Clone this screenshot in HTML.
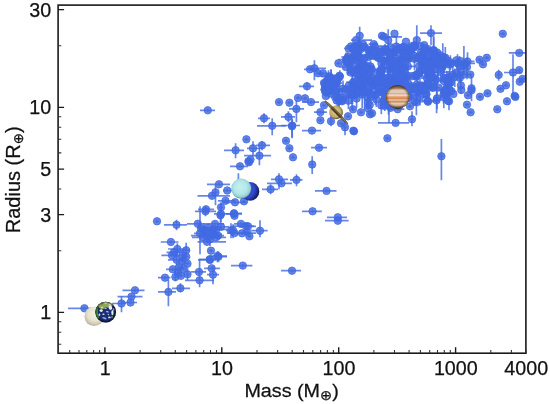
<!DOCTYPE html>
<html><head><meta charset="utf-8"><title>Mass-Radius</title>
<style>html,body{margin:0;padding:0;background:#fff}body{width:550px;height:404px;overflow:hidden}svg{display:block}</style>
</head><body>
<svg width="550" height="404" viewBox="0 0 550 404">
<defs>
<radialGradient id="gV" cx="0.55" cy="0.38" r="0.68"><stop offset="0" stop-color="#f4f2e8"/><stop offset="0.55" stop-color="#e6e2cd"/><stop offset="0.85" stop-color="#c4c0aa"/><stop offset="1" stop-color="#8f8d80"/></radialGradient>
<radialGradient id="gE" cx="0.5" cy="0.5" r="0.5"><stop offset="0" stop-color="#1d2f7e"/><stop offset="0.8" stop-color="#182a6c"/><stop offset="1" stop-color="#0b1436"/></radialGradient>
<radialGradient id="gU" cx="0.5" cy="0.46" r="0.56" fx="0.4" fy="0.4"><stop offset="0" stop-color="#c6f1ef"/><stop offset="0.6" stop-color="#b2e6e8"/><stop offset="0.86" stop-color="#93cdd4"/><stop offset="0.95" stop-color="#5d8a93"/><stop offset="1" stop-color="#1c2a30"/></radialGradient>
<radialGradient id="gN" cx="0.3" cy="0.4" r="0.75"><stop offset="0" stop-color="#3f5fe0"/><stop offset="0.6" stop-color="#2f46c8"/><stop offset="0.85" stop-color="#1a2480"/><stop offset="1" stop-color="#05071c"/></radialGradient>
<radialGradient id="gS" cx="0.45" cy="0.45" r="0.55"><stop offset="0" stop-color="#dcc88a"/><stop offset="0.7" stop-color="#c4ad6e"/><stop offset="1" stop-color="#6e5c32"/></radialGradient>
<linearGradient id="gJ" x1="0" y1="0" x2="0" y2="1">
<stop offset="0" stop-color="#8a6448"/><stop offset="0.13" stop-color="#a87c5c"/><stop offset="0.2" stop-color="#dcc6b4"/><stop offset="0.3" stop-color="#e3cdbd"/><stop offset="0.36" stop-color="#dba888"/><stop offset="0.42" stop-color="#efe4da"/><stop offset="0.5" stop-color="#e39a60"/><stop offset="0.57" stop-color="#dc8c52"/><stop offset="0.63" stop-color="#ecc9a8"/><stop offset="0.7" stop-color="#c98a60"/><stop offset="0.78" stop-color="#e4cdb6"/><stop offset="0.87" stop-color="#c9a88c"/><stop offset="0.93" stop-color="#9a7154"/><stop offset="1" stop-color="#6a4a34"/></linearGradient>
<radialGradient id="gJs" cx="0.5" cy="0.5" r="0.5"><stop offset="0" stop-color="#000" stop-opacity="0"/><stop offset="0.75" stop-color="#000" stop-opacity="0"/><stop offset="0.93" stop-color="#201008" stop-opacity="0.35"/><stop offset="1" stop-color="#100804" stop-opacity="0.75"/></radialGradient>
<radialGradient id="gEs" cx="0.5" cy="0.5" r="0.5"><stop offset="0" stop-color="#000" stop-opacity="0"/><stop offset="0.82" stop-color="#000" stop-opacity="0"/><stop offset="1" stop-color="#05081a" stop-opacity="0.55"/></radialGradient>
<filter id="soft" x="-10%" y="-10%" width="120%" height="120%"><feGaussianBlur stdDeviation="0.35"/></filter>
<clipPath id="clipAx"><rect x="58.5" y="5" width="467.5" height="348"/></clipPath>
<clipPath id="clipE"><circle cx="105.7" cy="312.1" r="10.4"/></clipPath>
</defs>
<rect width="550" height="404" fill="#fff"/>
<g clip-path="url(#clipAx)">
<path d="M68 308.3H98M84.4 306.5V310.1" stroke="#4169e1" stroke-opacity=".8" stroke-width="1.7" fill="none"/>
<path d="M112 303.5H126M121.5 296.3V312.3" stroke="#4169e1" stroke-opacity=".8" stroke-width="1.7" fill="none"/>
<path d="M122 302.5H137M130.5 300.7V304.3" stroke="#4169e1" stroke-opacity=".8" stroke-width="1.7" fill="none"/>
<path d="M117.5 296.6H142.5M131.5 294.8V298.4" stroke="#4169e1" stroke-opacity=".8" stroke-width="1.7" fill="none"/>
<path d="M122.5 290.3H144.5M135 288.5V292.1" stroke="#4169e1" stroke-opacity=".8" stroke-width="1.7" fill="none"/>
<path d="M158 291.9H176M168.4 279.3V306.3" stroke="#4169e1" stroke-opacity=".8" stroke-width="1.7" fill="none"/>
<path d="M172 288.3H190M180.4 283.3V292.3" stroke="#4169e1" stroke-opacity=".8" stroke-width="1.7" fill="none"/>
<path d="M191 271.9H206M199 270.1V273.7" stroke="#4169e1" stroke-opacity=".8" stroke-width="1.7" fill="none"/>
<path d="M185 280.3H214M199.6 259.3V287.3" stroke="#4169e1" stroke-opacity=".8" stroke-width="1.7" fill="none"/>
<path d="M198 259.9H216M210 258.1V261.7" stroke="#4169e1" stroke-opacity=".8" stroke-width="1.7" fill="none"/>
<path d="M208.8 250.7H213.2M211 248.9V252.5" stroke="#4169e1" stroke-opacity=".8" stroke-width="1.7" fill="none"/>
<path d="M210 256.7H227M218.5 251.3V262.3" stroke="#4169e1" stroke-opacity=".8" stroke-width="1.7" fill="none"/>
<path d="M204 268.3H220M211.6 266.5V270.1" stroke="#4169e1" stroke-opacity=".8" stroke-width="1.7" fill="none"/>
<path d="M207 274.7H219M213 266.3V284.3" stroke="#4169e1" stroke-opacity=".8" stroke-width="1.7" fill="none"/>
<path d="M231 265.6H252.4M242.8 263.8V267.4" stroke="#4169e1" stroke-opacity=".8" stroke-width="1.7" fill="none"/>
<path d="M281 270.7H301M292 268.9V272.5" stroke="#4169e1" stroke-opacity=".8" stroke-width="1.7" fill="none"/>
<path d="M154.8 221.3H159.2M157 219.5V223.1" stroke="#4169e1" stroke-opacity=".8" stroke-width="1.7" fill="none"/>
<path d="M164 224.8H187M176.5 219.8V230.3" stroke="#4169e1" stroke-opacity=".8" stroke-width="1.7" fill="none"/>
<path d="M195 211.3H216M205.5 206.3V216.3" stroke="#4169e1" stroke-opacity=".8" stroke-width="1.7" fill="none"/>
<path d="M194 233.3H206M200 206.3V254.3" stroke="#4169e1" stroke-opacity=".8" stroke-width="1.7" fill="none"/>
<path d="M187 223.8H208.5M197.8 222V225.6" stroke="#4169e1" stroke-opacity=".8" stroke-width="1.7" fill="none"/>
<path d="M214 213.9H230M221 202.3V222.3" stroke="#4169e1" stroke-opacity=".8" stroke-width="1.7" fill="none"/>
<path d="M226 213.9H242M234 212.1V215.7" stroke="#4169e1" stroke-opacity=".8" stroke-width="1.7" fill="none"/>
<path d="M208 223.9H224M215 222.1V225.7" stroke="#4169e1" stroke-opacity=".8" stroke-width="1.7" fill="none"/>
<path d="M213.8 230.3H218.2M216 228.5V232.1" stroke="#4169e1" stroke-opacity=".8" stroke-width="1.7" fill="none"/>
<path d="M203.8 233.3H208.2M206 231.5V235.1" stroke="#4169e1" stroke-opacity=".8" stroke-width="1.7" fill="none"/>
<path d="M192 237.3H212M203 235.5V239.1" stroke="#4169e1" stroke-opacity=".8" stroke-width="1.7" fill="none"/>
<path d="M207.8 239.3H212.2M210 232.3V246.3" stroke="#4169e1" stroke-opacity=".8" stroke-width="1.7" fill="none"/>
<path d="M208 237.3H226M216 235.5V239.1" stroke="#4169e1" stroke-opacity=".8" stroke-width="1.7" fill="none"/>
<path d="M226 230.3H236M231 223.3V238.3" stroke="#4169e1" stroke-opacity=".8" stroke-width="1.7" fill="none"/>
<path d="M234 223.9H248M241 222.1V225.7" stroke="#4169e1" stroke-opacity=".8" stroke-width="1.7" fill="none"/>
<path d="M236 233.3H250M242 231.5V235.1" stroke="#4169e1" stroke-opacity=".8" stroke-width="1.7" fill="none"/>
<path d="M242 226.3H256M248 224.5V228.1" stroke="#4169e1" stroke-opacity=".8" stroke-width="1.7" fill="none"/>
<path d="M247.2 236.3H251.6M249.4 234.5V238.1" stroke="#4169e1" stroke-opacity=".8" stroke-width="1.7" fill="none"/>
<path d="M251 230.7H267.6M260 220.3V237.3" stroke="#4169e1" stroke-opacity=".8" stroke-width="1.7" fill="none"/>
<path d="M230.8 230.3H235.2M233 224.3V238.3" stroke="#4169e1" stroke-opacity=".8" stroke-width="1.7" fill="none"/>
<path d="M218 200.8H235M225.5 199V202.6" stroke="#4169e1" stroke-opacity=".8" stroke-width="1.7" fill="none"/>
<path d="M223 202.3H247M235 200.5V204.1" stroke="#4169e1" stroke-opacity=".8" stroke-width="1.7" fill="none"/>
<path d="M241.8 201.3H246.2M244 199.5V203.1" stroke="#4169e1" stroke-opacity=".8" stroke-width="1.7" fill="none"/>
<path d="M230 213.3H242M234 211.5V215.1" stroke="#4169e1" stroke-opacity=".8" stroke-width="1.7" fill="none"/>
<path d="M207 184.3H230M219 182.5V186.1" stroke="#4169e1" stroke-opacity=".8" stroke-width="1.7" fill="none"/>
<path d="M223 190.5H233M227.2 188.7V192.3" stroke="#4169e1" stroke-opacity=".8" stroke-width="1.7" fill="none"/>
<path d="M197.5 195.8H230M212 194V197.6" stroke="#4169e1" stroke-opacity=".8" stroke-width="1.7" fill="none"/>
<path d="M213.3 192.3H217.7M215.5 185.3V205.3" stroke="#4169e1" stroke-opacity=".8" stroke-width="1.7" fill="none"/>
<path d="M198 209.3H214M206 207.5V211.1" stroke="#4169e1" stroke-opacity=".8" stroke-width="1.7" fill="none"/>
<path d="M218.8 207.3H223.2M221 203.3V214.3" stroke="#4169e1" stroke-opacity=".8" stroke-width="1.7" fill="none"/>
<path d="M236.2 186.3H240.6M238.4 173.3V196.3" stroke="#4169e1" stroke-opacity=".8" stroke-width="1.7" fill="none"/>
<path d="M244.2 139.3H248.6M246.4 137.5V141.1" stroke="#4169e1" stroke-opacity=".8" stroke-width="1.7" fill="none"/>
<path d="M224 150.3H244M235.6 143.3V158.3" stroke="#4169e1" stroke-opacity=".8" stroke-width="1.7" fill="none"/>
<path d="M247 148.3H260M253 141.3V156.3" stroke="#4169e1" stroke-opacity=".8" stroke-width="1.7" fill="none"/>
<path d="M256 145.3H270M262 141.3V150.3" stroke="#4169e1" stroke-opacity=".8" stroke-width="1.7" fill="none"/>
<path d="M244 155.7H271M259.4 148.3V165.3" stroke="#4169e1" stroke-opacity=".8" stroke-width="1.7" fill="none"/>
<path d="M246.2 161.3H250.6M248.4 159.5V163.1" stroke="#4169e1" stroke-opacity=".8" stroke-width="1.7" fill="none"/>
<path d="M248.3 159.6H252.7M250.5 157.8V161.4" stroke="#4169e1" stroke-opacity=".8" stroke-width="1.7" fill="none"/>
<path d="M230 166.3H248M240 164.5V168.1" stroke="#4169e1" stroke-opacity=".8" stroke-width="1.7" fill="none"/>
<path d="M246.8 162.3H251.2M249 160.5V164.1" stroke="#4169e1" stroke-opacity=".8" stroke-width="1.7" fill="none"/>
<path d="M283.8 140.8H288.2M286 139V142.6" stroke="#4169e1" stroke-opacity=".8" stroke-width="1.7" fill="none"/>
<path d="M289.8 126.3H294.2M292 118.3V138.3" stroke="#4169e1" stroke-opacity=".8" stroke-width="1.7" fill="none"/>
<path d="M287.2 148.3H291.6M289.4 146.5V150.1" stroke="#4169e1" stroke-opacity=".8" stroke-width="1.7" fill="none"/>
<path d="M290.8 157.3H295.2M293 155.5V159.1" stroke="#4169e1" stroke-opacity=".8" stroke-width="1.7" fill="none"/>
<path d="M271 179.3H288M279 173.3V189.3" stroke="#4169e1" stroke-opacity=".8" stroke-width="1.7" fill="none"/>
<path d="M267 183.3H292M281.5 181.5V185.1" stroke="#4169e1" stroke-opacity=".8" stroke-width="1.7" fill="none"/>
<path d="M262 189.3H278M270.6 184.3V194.3" stroke="#4169e1" stroke-opacity=".8" stroke-width="1.7" fill="none"/>
<path d="M290 179.9H302.5M296.5 174.3V186.3" stroke="#4169e1" stroke-opacity=".8" stroke-width="1.7" fill="none"/>
<path d="M310 164.5H314.4M312.2 156.3V173.9" stroke="#4169e1" stroke-opacity=".8" stroke-width="1.7" fill="none"/>
<path d="M315 190.9H336.5M326.5 189.1V192.7" stroke="#4169e1" stroke-opacity=".8" stroke-width="1.7" fill="none"/>
<path d="M302 211.3H321.8M312.6 209.5V213.1" stroke="#4169e1" stroke-opacity=".8" stroke-width="1.7" fill="none"/>
<path d="M327 217.3H347M337.8 215.5V219.1" stroke="#4169e1" stroke-opacity=".8" stroke-width="1.7" fill="none"/>
<path d="M325 220.7H348.6M337.8 218.9V222.5" stroke="#4169e1" stroke-opacity=".8" stroke-width="1.7" fill="none"/>
<path d="M200 110.3H215M207.8 108.5V112.1" stroke="#4169e1" stroke-opacity=".8" stroke-width="1.7" fill="none"/>
<path d="M276.8 102.1H281.2M279 100.3V103.9" stroke="#4169e1" stroke-opacity=".8" stroke-width="1.7" fill="none"/>
<path d="M287.2 102.7H291.6M289.4 100.9V104.5" stroke="#4169e1" stroke-opacity=".8" stroke-width="1.7" fill="none"/>
<path d="M295.8 97.9H300.2M298 96.1V99.7" stroke="#4169e1" stroke-opacity=".8" stroke-width="1.7" fill="none"/>
<path d="M302.8 98.3H307.2M305 96.5V100.1" stroke="#4169e1" stroke-opacity=".8" stroke-width="1.7" fill="none"/>
<path d="M302 102.1H319M311 100.3V103.9" stroke="#4169e1" stroke-opacity=".8" stroke-width="1.7" fill="none"/>
<path d="M289 108.9H304M296.4 100.3V122.3" stroke="#4169e1" stroke-opacity=".8" stroke-width="1.7" fill="none"/>
<path d="M258 118.3H270M264 113.3V123.3" stroke="#4169e1" stroke-opacity=".8" stroke-width="1.7" fill="none"/>
<path d="M281 116.9H295M288.4 111.3V122.3" stroke="#4169e1" stroke-opacity=".8" stroke-width="1.7" fill="none"/>
<path d="M257 125.8H286M272.2 118.3V135.3" stroke="#4169e1" stroke-opacity=".8" stroke-width="1.7" fill="none"/>
<path d="M281 125.5H300M292.2 119.3V137.3" stroke="#4169e1" stroke-opacity=".8" stroke-width="1.7" fill="none"/>
<path d="M302 130.6H321M312 128.8V132.4" stroke="#4169e1" stroke-opacity=".8" stroke-width="1.7" fill="none"/>
<path d="M311 147.7H327M319 145.9V149.5" stroke="#4169e1" stroke-opacity=".8" stroke-width="1.7" fill="none"/>
<path d="M299 86.3H314M307 82.3V90.3" stroke="#4169e1" stroke-opacity=".8" stroke-width="1.7" fill="none"/>
<path d="M304 69.3H319M310 67.5V71.1" stroke="#4169e1" stroke-opacity=".8" stroke-width="1.7" fill="none"/>
<path d="M308 68.3H326M314.4 60.3V80.3" stroke="#4169e1" stroke-opacity=".8" stroke-width="1.7" fill="none"/>
<path d="M315.8 73.3H320.2M318 71.5V75.1" stroke="#4169e1" stroke-opacity=".8" stroke-width="1.7" fill="none"/>
<path d="M314 112.1H327M320.4 110.3V113.9" stroke="#4169e1" stroke-opacity=".8" stroke-width="1.7" fill="none"/>
<path d="M318.2 120.3H322.6M320.4 118.5V122.1" stroke="#4169e1" stroke-opacity=".8" stroke-width="1.7" fill="none"/>
<path d="M321.8 105.3H326.2M324 103.5V107.1" stroke="#4169e1" stroke-opacity=".8" stroke-width="1.7" fill="none"/>
<path d="M328.8 121.3H333.2M331 112.3V126.3" stroke="#4169e1" stroke-opacity=".8" stroke-width="1.7" fill="none"/>
<path d="M338.8 123.3H343.2M341 121.5V125.1" stroke="#4169e1" stroke-opacity=".8" stroke-width="1.7" fill="none"/>
<path d="M342.8 127.3H347.2M345 120.3V135.3" stroke="#4169e1" stroke-opacity=".8" stroke-width="1.7" fill="none"/>
<path d="M350.5 131.3H357.5M354 127.8V134.8" stroke="#4169e1" stroke-opacity=".8" stroke-width="1.7" fill="none"/>
<path d="M345.8 116.3H350.2M348 114.5V118.1" stroke="#4169e1" stroke-opacity=".8" stroke-width="1.7" fill="none"/>
<path d="M350.8 109.3H355.2M353 107.5V111.1" stroke="#4169e1" stroke-opacity=".8" stroke-width="1.7" fill="none"/>
<path d="M339.8 101.3H344.2M342 99.5V103.1" stroke="#4169e1" stroke-opacity=".8" stroke-width="1.7" fill="none"/>
<path d="M358.8 112.3H363.2M361 110.5V114.1" stroke="#4169e1" stroke-opacity=".8" stroke-width="1.7" fill="none"/>
<path d="M365.8 108.3H370.2M368 106.5V110.1" stroke="#4169e1" stroke-opacity=".8" stroke-width="1.7" fill="none"/>
<path d="M367.8 114.3H372.2M370 112.5V116.1" stroke="#4169e1" stroke-opacity=".8" stroke-width="1.7" fill="none"/>
<path d="M336.2 63.3H340.6M338.4 61.5V65.1" stroke="#4169e1" stroke-opacity=".8" stroke-width="1.7" fill="none"/>
<path d="M318 73.3H329M323 71.5V75.1" stroke="#4169e1" stroke-opacity=".8" stroke-width="1.7" fill="none"/>
<path d="M328.8 78.3H333.2M331 69.3V92.3" stroke="#4169e1" stroke-opacity=".8" stroke-width="1.7" fill="none"/>
<path d="M500.6 33.8H505M502.8 32V35.6" stroke="#4169e1" stroke-opacity=".8" stroke-width="1.7" fill="none"/>
<path d="M508.8 52.9H525.5M519.2 51.1V54.7" stroke="#4169e1" stroke-opacity=".8" stroke-width="1.7" fill="none"/>
<path d="M484.6 57.8H489M486.8 56V59.6" stroke="#4169e1" stroke-opacity=".8" stroke-width="1.7" fill="none"/>
<path d="M477.3 59.7H481.7M479.5 57.9V61.5" stroke="#4169e1" stroke-opacity=".8" stroke-width="1.7" fill="none"/>
<path d="M480.8 64.3H485.2M483 62.5V66.1" stroke="#4169e1" stroke-opacity=".8" stroke-width="1.7" fill="none"/>
<path d="M496.5 74.9H500.9M498.7 69.8V80.7" stroke="#4169e1" stroke-opacity=".8" stroke-width="1.7" fill="none"/>
<path d="M504 72.5H522M513 54.3V97.3" stroke="#4169e1" stroke-opacity=".8" stroke-width="1.7" fill="none"/>
<path d="M517 70.1H521.4M519.2 68.3V71.9" stroke="#4169e1" stroke-opacity=".8" stroke-width="1.7" fill="none"/>
<path d="M520.3 78.9H524.7M522.5 77.1V80.7" stroke="#4169e1" stroke-opacity=".8" stroke-width="1.7" fill="none"/>
<path d="M517.5 81.7H521.9M519.7 79.9V83.5" stroke="#4169e1" stroke-opacity=".8" stroke-width="1.7" fill="none"/>
<path d="M503.8 85.3H508.2M506 83.5V87.1" stroke="#4169e1" stroke-opacity=".8" stroke-width="1.7" fill="none"/>
<path d="M498.3 88.8H502.7M500.5 87V90.6" stroke="#4169e1" stroke-opacity=".8" stroke-width="1.7" fill="none"/>
<path d="M485.3 93.3H489.7M487.5 91.5V95.1" stroke="#4169e1" stroke-opacity=".8" stroke-width="1.7" fill="none"/>
<path d="M512.4 95.9H516.8M514.6 94.1V97.7" stroke="#4169e1" stroke-opacity=".8" stroke-width="1.7" fill="none"/>
<path d="M513.2 96.9H517.6M515.4 95.1V98.7" stroke="#4169e1" stroke-opacity=".8" stroke-width="1.7" fill="none"/>
<path d="M504.8 101.3H509.2M507 99.5V103.1" stroke="#4169e1" stroke-opacity=".8" stroke-width="1.7" fill="none"/>
<path d="M495.1 109.3H499.5M497.3 107.5V111.1" stroke="#4169e1" stroke-opacity=".8" stroke-width="1.7" fill="none"/>
<path d="M477.8 96.8H482.2M480 95V98.6" stroke="#4169e1" stroke-opacity=".8" stroke-width="1.7" fill="none"/>
<path d="M468.1 74.6H472.5M470.3 72.8V76.4" stroke="#4169e1" stroke-opacity=".8" stroke-width="1.7" fill="none"/>
<path d="M469.3 88.3H473.7M471.5 86.5V90.1" stroke="#4169e1" stroke-opacity=".8" stroke-width="1.7" fill="none"/>
<path d="M465.3 61.5H469.7M467.5 52.3V71.3" stroke="#4169e1" stroke-opacity=".8" stroke-width="1.7" fill="none"/>
<path d="M461.7 65.3H466.1M463.9 45.9V75.3" stroke="#4169e1" stroke-opacity=".8" stroke-width="1.7" fill="none"/>
<path d="M450 63.3H475M457.5 54.3V72.3" stroke="#4169e1" stroke-opacity=".8" stroke-width="1.7" fill="none"/>
<path d="M440.6 60.3H445M442.8 43.3V78.3" stroke="#4169e1" stroke-opacity=".8" stroke-width="1.7" fill="none"/>
<path d="M431.5 50.3H435.9M433.7 36.3V70.3" stroke="#4169e1" stroke-opacity=".8" stroke-width="1.7" fill="none"/>
<path d="M420 33.1H442M431 25.3V45.3" stroke="#4169e1" stroke-opacity=".8" stroke-width="1.7" fill="none"/>
<path d="M465.8 95.3H470.2M468 93.5V97.1" stroke="#4169e1" stroke-opacity=".8" stroke-width="1.7" fill="none"/>
<path d="M464.8 104.7H469.2M467 102.9V106.5" stroke="#4169e1" stroke-opacity=".8" stroke-width="1.7" fill="none"/>
<path d="M468.4 112.3H472.8M470.6 110.5V114.1" stroke="#4169e1" stroke-opacity=".8" stroke-width="1.7" fill="none"/>
<path d="M446.8 101.3H451.2M449 92.3V110.3" stroke="#4169e1" stroke-opacity=".8" stroke-width="1.7" fill="none"/>
<path d="M434.4 100.3H438.8M436.6 88.3V113.3" stroke="#4169e1" stroke-opacity=".8" stroke-width="1.7" fill="none"/>
<path d="M419 101.7H434M428 99.9V103.5" stroke="#4169e1" stroke-opacity=".8" stroke-width="1.7" fill="none"/>
<path d="M414.2 102.3H418.6M416.4 90.3V115.3" stroke="#4169e1" stroke-opacity=".8" stroke-width="1.7" fill="none"/>
<path d="M407.8 106.3H412.2M410 104.5V108.1" stroke="#4169e1" stroke-opacity=".8" stroke-width="1.7" fill="none"/>
<path d="M409.8 119.3H414.2M412 111.3V126.3" stroke="#4169e1" stroke-opacity=".8" stroke-width="1.7" fill="none"/>
<path d="M378 122.9H409M395.6 121.1V124.7" stroke="#4169e1" stroke-opacity=".8" stroke-width="1.7" fill="none"/>
<path d="M386.8 106.3H391.2M389 98.3V122.9" stroke="#4169e1" stroke-opacity=".8" stroke-width="1.7" fill="none"/>
<path d="M385.2 138.3H389.6M387.4 136.5V140.1" stroke="#4169e1" stroke-opacity=".8" stroke-width="1.7" fill="none"/>
<path d="M439.2 156.3H443.6M441.4 138.9V180.3" stroke="#4169e1" stroke-opacity=".8" stroke-width="1.7" fill="none"/>
<path d="M369.8 113.3H374.2M372 111.5V115.1" stroke="#4169e1" stroke-opacity=".8" stroke-width="1.7" fill="none"/>
<path d="M351.2 130.7H355.6M353.4 128.9V132.5" stroke="#4169e1" stroke-opacity=".8" stroke-width="1.7" fill="none"/>
<path d="M199 229.3H227M213 227.5V231.1" stroke="#4169e1" stroke-opacity=".8" stroke-width="1.7" fill="none"/>
<path d="M206 234.3H222M213 228.3V240.3" stroke="#4169e1" stroke-opacity=".8" stroke-width="1.7" fill="none"/>
<path d="M191 235.7H224M218 233.9V237.5" stroke="#4169e1" stroke-opacity=".8" stroke-width="1.7" fill="none"/>
<path d="M197.6 227.8H222M208 226V229.6" stroke="#4169e1" stroke-opacity=".8" stroke-width="1.7" fill="none"/>
<path d="M201.8 229.8H206.2M204 223.3V236.3" stroke="#4169e1" stroke-opacity=".8" stroke-width="1.7" fill="none"/>
<path d="M212 226.8H229M221 225V228.6" stroke="#4169e1" stroke-opacity=".8" stroke-width="1.7" fill="none"/>
<path d="M197.6 241.8H226M207 240V243.6" stroke="#4169e1" stroke-opacity=".8" stroke-width="1.7" fill="none"/>
<path d="M198.8 228.3H203.2M201 226.5V230.1" stroke="#4169e1" stroke-opacity=".8" stroke-width="1.7" fill="none"/>
<path d="M208.8 233.3H213.2M211 231.5V235.1" stroke="#4169e1" stroke-opacity=".8" stroke-width="1.7" fill="none"/>
<path d="M227 233.1H256M234.5 231.3V234.9" stroke="#4169e1" stroke-opacity=".8" stroke-width="1.7" fill="none"/>
<path d="M232.6 226.1H254M246 224.3V227.9" stroke="#4169e1" stroke-opacity=".8" stroke-width="1.7" fill="none"/>
<path d="M244.8 231.8H249.2M247 230V233.6" stroke="#4169e1" stroke-opacity=".8" stroke-width="1.7" fill="none"/>
<path d="M218.3 215.3H222.7M220.5 209.3V222.9" stroke="#4169e1" stroke-opacity=".8" stroke-width="1.7" fill="none"/>
<path d="M232.3 215.8H236.7M234.5 214V217.6" stroke="#4169e1" stroke-opacity=".8" stroke-width="1.7" fill="none"/>
<path d="M209 256H227M217.4 251.3V262.3" stroke="#4169e1" stroke-opacity=".8" stroke-width="1.7" fill="none"/>
<path d="M199 259.3H216M209.7 257.5V261.1" stroke="#4169e1" stroke-opacity=".8" stroke-width="1.7" fill="none"/>
<path d="M160.7 242H178.5M170.9 240.2V243.8" stroke="#4169e1" stroke-opacity=".8" stroke-width="1.7" fill="none"/>
<path d="M168 249H186M177.3 243.3V255.3" stroke="#4169e1" stroke-opacity=".8" stroke-width="1.7" fill="none"/>
<path d="M178 250.3H190M186.2 242.7V259.3" stroke="#4169e1" stroke-opacity=".8" stroke-width="1.7" fill="none"/>
<path d="M166.5 252.3H182M174 250.5V254.1" stroke="#4169e1" stroke-opacity=".8" stroke-width="1.7" fill="none"/>
<path d="M161.4 255.3H180M172 253.5V257.1" stroke="#4169e1" stroke-opacity=".8" stroke-width="1.7" fill="none"/>
<path d="M180.2 255.3H184.6M182.4 249.3V262.3" stroke="#4169e1" stroke-opacity=".8" stroke-width="1.7" fill="none"/>
<path d="M184 256.7H188.4M186.2 254.9V258.5" stroke="#4169e1" stroke-opacity=".8" stroke-width="1.7" fill="none"/>
<path d="M168 259.8H184M176.6 253.3V266.3" stroke="#4169e1" stroke-opacity=".8" stroke-width="1.7" fill="none"/>
<path d="M180.2 261.1H184.6M182.4 255.3V268.3" stroke="#4169e1" stroke-opacity=".8" stroke-width="1.7" fill="none"/>
<path d="M185.3 263.7H189.7M187.5 261.9V265.5" stroke="#4169e1" stroke-opacity=".8" stroke-width="1.7" fill="none"/>
<path d="M166 269.3H180M172.8 267.5V271.1" stroke="#4169e1" stroke-opacity=".8" stroke-width="1.7" fill="none"/>
<path d="M176.8 267.3H181.2M179 261.3V274.3" stroke="#4169e1" stroke-opacity=".8" stroke-width="1.7" fill="none"/>
<path d="M181.4 268.8H185.8M183.6 267V270.6" stroke="#4169e1" stroke-opacity=".8" stroke-width="1.7" fill="none"/>
<path d="M173.2 277H177.6M175.4 270.3V281.3" stroke="#4169e1" stroke-opacity=".8" stroke-width="1.7" fill="none"/>
<path d="M178.8 275.8H183.2M181 274V277.6" stroke="#4169e1" stroke-opacity=".8" stroke-width="1.7" fill="none"/>
<path d="M185.3 274.3H189.7M187.5 268.3V280.3" stroke="#4169e1" stroke-opacity=".8" stroke-width="1.7" fill="none"/>
<path d="M158 277.7H170.5M165 275.9V279.5" stroke="#4169e1" stroke-opacity=".8" stroke-width="1.7" fill="none"/>
<path d="M175.8 272.8H180.2M178 271V274.6" stroke="#4169e1" stroke-opacity=".8" stroke-width="1.7" fill="none"/>
<path d="M352.5 74.8V104.2" stroke="#4169e1" stroke-opacity=".8" stroke-width="1.7" fill="none"/>
<path d="M367.4 89.3V106.2" stroke="#4169e1" stroke-opacity=".8" stroke-width="1.7" fill="none"/>
<path d="M379.4 94.8H393.5M386.1 86V104.4" stroke="#4169e1" stroke-opacity=".8" stroke-width="1.7" fill="none"/>
<path d="M365 60.6V74.7" stroke="#4169e1" stroke-opacity=".8" stroke-width="1.7" fill="none"/>
<path d="M359.1 61V76.4" stroke="#4169e1" stroke-opacity=".8" stroke-width="1.7" fill="none"/>
<path d="M341.2 57H353.9" stroke="#4169e1" stroke-opacity=".8" stroke-width="1.7" fill="none"/>
<path d="M401.4 74.4V97.1" stroke="#4169e1" stroke-opacity=".8" stroke-width="1.7" fill="none"/>
<path d="M374.6 69H388.5M382 64.1V73.4" stroke="#4169e1" stroke-opacity=".8" stroke-width="1.7" fill="none"/>
<path d="M368.5 44.1H377.9" stroke="#4169e1" stroke-opacity=".8" stroke-width="1.7" fill="none"/>
<path d="M390.4 46.5H401.7M396.4 36.6V54.5" stroke="#4169e1" stroke-opacity=".8" stroke-width="1.7" fill="none"/>
<path d="M403.5 42.9V61.1" stroke="#4169e1" stroke-opacity=".8" stroke-width="1.7" fill="none"/>
<path d="M430 49.6V69.2" stroke="#4169e1" stroke-opacity=".8" stroke-width="1.7" fill="none"/>
<path d="M434.9 64H452.4" stroke="#4169e1" stroke-opacity=".8" stroke-width="1.7" fill="none"/>
<path d="M349.4 56.6H361.1" stroke="#4169e1" stroke-opacity=".8" stroke-width="1.7" fill="none"/>
<path d="M452.8 66V85.9" stroke="#4169e1" stroke-opacity=".8" stroke-width="1.7" fill="none"/>
<path d="M443.6 84.7V103.6" stroke="#4169e1" stroke-opacity=".8" stroke-width="1.7" fill="none"/>
<path d="M429.3 52.5H440.3" stroke="#4169e1" stroke-opacity=".8" stroke-width="1.7" fill="none"/>
<path d="M382.9 103.1H394.4M388.5 90.6V114.6" stroke="#4169e1" stroke-opacity=".8" stroke-width="1.7" fill="none"/>
<path d="M397.5 78H411.3M404 73.5V82" stroke="#4169e1" stroke-opacity=".8" stroke-width="1.7" fill="none"/>
<path d="M394.8 78.4V107.7" stroke="#4169e1" stroke-opacity=".8" stroke-width="1.7" fill="none"/>
<path d="M400.6 58.2H416.7" stroke="#4169e1" stroke-opacity=".8" stroke-width="1.7" fill="none"/>
<path d="M424.7 87.8H440.7" stroke="#4169e1" stroke-opacity=".8" stroke-width="1.7" fill="none"/>
<path d="M388.2 70.9V85.1" stroke="#4169e1" stroke-opacity=".8" stroke-width="1.7" fill="none"/>
<path d="M372.4 74.3V98.2" stroke="#4169e1" stroke-opacity=".8" stroke-width="1.7" fill="none"/>
<path d="M436.7 59.8H450.3" stroke="#4169e1" stroke-opacity=".8" stroke-width="1.7" fill="none"/>
<path d="M320.4 89.9H338.9" stroke="#4169e1" stroke-opacity=".8" stroke-width="1.7" fill="none"/>
<path d="M398 57.5H408.1M403.3 51.7V63" stroke="#4169e1" stroke-opacity=".8" stroke-width="1.7" fill="none"/>
<path d="M440 54.4V66.6" stroke="#4169e1" stroke-opacity=".8" stroke-width="1.7" fill="none"/>
<path d="M429.2 80H441.4" stroke="#4169e1" stroke-opacity=".8" stroke-width="1.7" fill="none"/>
<path d="M326.3 93.6H336.8" stroke="#4169e1" stroke-opacity=".8" stroke-width="1.7" fill="none"/>
<path d="M420.1 60.6H431" stroke="#4169e1" stroke-opacity=".8" stroke-width="1.7" fill="none"/>
<path d="M388.2 76.5H400.7M395 70.3V82.7" stroke="#4169e1" stroke-opacity=".8" stroke-width="1.7" fill="none"/>
<path d="M381.5 54.6V74.1" stroke="#4169e1" stroke-opacity=".8" stroke-width="1.7" fill="none"/>
<path d="M460.9 77.6V93.8" stroke="#4169e1" stroke-opacity=".8" stroke-width="1.7" fill="none"/>
<path d="M412.3 86.6H422.2M417.5 77.2V96.7" stroke="#4169e1" stroke-opacity=".8" stroke-width="1.7" fill="none"/>
<path d="M392.5 93.5V106.8" stroke="#4169e1" stroke-opacity=".8" stroke-width="1.7" fill="none"/>
<path d="M346.4 82.2H359.1" stroke="#4169e1" stroke-opacity=".8" stroke-width="1.7" fill="none"/>
<path d="M449.6 66.6V87.7" stroke="#4169e1" stroke-opacity=".8" stroke-width="1.7" fill="none"/>
<path d="M397.7 66V79.2" stroke="#4169e1" stroke-opacity=".8" stroke-width="1.7" fill="none"/>
<path d="M382.7 60.1H392.2" stroke="#4169e1" stroke-opacity=".8" stroke-width="1.7" fill="none"/>
<path d="M355.8 77.1H369.1" stroke="#4169e1" stroke-opacity=".8" stroke-width="1.7" fill="none"/>
<path d="M399 92.1H415.4" stroke="#4169e1" stroke-opacity=".8" stroke-width="1.7" fill="none"/>
<path d="M413.2 60.9H430M421.8 53.3V68.1" stroke="#4169e1" stroke-opacity=".8" stroke-width="1.7" fill="none"/>
<path d="M376.9 52.3H387.7" stroke="#4169e1" stroke-opacity=".8" stroke-width="1.7" fill="none"/>
<path d="M402.8 61.1V75.5" stroke="#4169e1" stroke-opacity=".8" stroke-width="1.7" fill="none"/>
<path d="M339.9 70.3V82.3" stroke="#4169e1" stroke-opacity=".8" stroke-width="1.7" fill="none"/>
<path d="M352.4 48.2H367.3" stroke="#4169e1" stroke-opacity=".8" stroke-width="1.7" fill="none"/>
<path d="M360.6 49.5H374.2" stroke="#4169e1" stroke-opacity=".8" stroke-width="1.7" fill="none"/>
<path d="M331.1 69.7V84.8" stroke="#4169e1" stroke-opacity=".8" stroke-width="1.7" fill="none"/>
<path d="M424.6 62.4H437.9" stroke="#4169e1" stroke-opacity=".8" stroke-width="1.7" fill="none"/>
<path d="M360.6 83.6V92.9" stroke="#4169e1" stroke-opacity=".8" stroke-width="1.7" fill="none"/>
<path d="M378.4 89.4H394.6" stroke="#4169e1" stroke-opacity=".8" stroke-width="1.7" fill="none"/>
<path d="M346.2 95.1H362.7" stroke="#4169e1" stroke-opacity=".8" stroke-width="1.7" fill="none"/>
<path d="M364.2 54.8V75.3" stroke="#4169e1" stroke-opacity=".8" stroke-width="1.7" fill="none"/>
<path d="M376.3 91.9V106.9" stroke="#4169e1" stroke-opacity=".8" stroke-width="1.7" fill="none"/>
<path d="M380.2 98.8H389.1M384.9 88.3V111.1" stroke="#4169e1" stroke-opacity=".8" stroke-width="1.7" fill="none"/>
<path d="M361.4 87.4V97.2" stroke="#4169e1" stroke-opacity=".8" stroke-width="1.7" fill="none"/>
<path d="M370.5 60.6V73.2" stroke="#4169e1" stroke-opacity=".8" stroke-width="1.7" fill="none"/>
<path d="M352.1 45H367.1" stroke="#4169e1" stroke-opacity=".8" stroke-width="1.7" fill="none"/>
<path d="M398.8 84.2V99.4" stroke="#4169e1" stroke-opacity=".8" stroke-width="1.7" fill="none"/>
<path d="M346.3 58.1H356.8" stroke="#4169e1" stroke-opacity=".8" stroke-width="1.7" fill="none"/>
<path d="M356.6 90.9V107.7" stroke="#4169e1" stroke-opacity=".8" stroke-width="1.7" fill="none"/>
<path d="M467 57.5V79.3" stroke="#4169e1" stroke-opacity=".8" stroke-width="1.7" fill="none"/>
<path d="M330.6 83.2H342.3M336.7 77.4V89.6" stroke="#4169e1" stroke-opacity=".8" stroke-width="1.7" fill="none"/>
<path d="M417 54.9H428.2" stroke="#4169e1" stroke-opacity=".8" stroke-width="1.7" fill="none"/>
<path d="M382.5 74.3V86.3" stroke="#4169e1" stroke-opacity=".8" stroke-width="1.7" fill="none"/>
<path d="M377.5 50V60.2" stroke="#4169e1" stroke-opacity=".8" stroke-width="1.7" fill="none"/>
<path d="M334.1 78.8V91.8" stroke="#4169e1" stroke-opacity=".8" stroke-width="1.7" fill="none"/>
<path d="M397.5 92.9V105" stroke="#4169e1" stroke-opacity=".8" stroke-width="1.7" fill="none"/>
<path d="M381.3 95.8V114.2" stroke="#4169e1" stroke-opacity=".8" stroke-width="1.7" fill="none"/>
<path d="M378.4 101.2H389.4" stroke="#4169e1" stroke-opacity=".8" stroke-width="1.7" fill="none"/>
<path d="M372.8 49.2H386.9" stroke="#4169e1" stroke-opacity=".8" stroke-width="1.7" fill="none"/>
<path d="M400.6 94.8H417.3" stroke="#4169e1" stroke-opacity=".8" stroke-width="1.7" fill="none"/>
<path d="M383.3 71.9H397.1" stroke="#4169e1" stroke-opacity=".8" stroke-width="1.7" fill="none"/>
<path d="M392.4 47.9V58.6" stroke="#4169e1" stroke-opacity=".8" stroke-width="1.7" fill="none"/>
<path d="M399.6 57.4V80.6" stroke="#4169e1" stroke-opacity=".8" stroke-width="1.7" fill="none"/>
<path d="M389.7 109.2H404.4" stroke="#4169e1" stroke-opacity=".8" stroke-width="1.7" fill="none"/>
<path d="M366.9 94.7H382.8M375.4 84.9V105" stroke="#4169e1" stroke-opacity=".8" stroke-width="1.7" fill="none"/>
<path d="M361.5 71V81.7" stroke="#4169e1" stroke-opacity=".8" stroke-width="1.7" fill="none"/>
<path d="M407.7 71.1V94.3" stroke="#4169e1" stroke-opacity=".8" stroke-width="1.7" fill="none"/>
<path d="M433 72.1H447.9M440.8 62.3V83.1" stroke="#4169e1" stroke-opacity=".8" stroke-width="1.7" fill="none"/>
<path d="M420.2 62.8H429.4M424.9 54.3V71.8" stroke="#4169e1" stroke-opacity=".8" stroke-width="1.7" fill="none"/>
<path d="M351.4 87.3H359.7" stroke="#4169e1" stroke-opacity=".8" stroke-width="1.7" fill="none"/>
<path d="M352.3 74.6V95" stroke="#4169e1" stroke-opacity=".8" stroke-width="1.7" fill="none"/>
<path d="M435.9 50.2V66.2" stroke="#4169e1" stroke-opacity=".8" stroke-width="1.7" fill="none"/>
<path d="M347.6 52.3V74.8" stroke="#4169e1" stroke-opacity=".8" stroke-width="1.7" fill="none"/>
<path d="M351 47.9H360.8" stroke="#4169e1" stroke-opacity=".8" stroke-width="1.7" fill="none"/>
<path d="M437.2 78H451.1" stroke="#4169e1" stroke-opacity=".8" stroke-width="1.7" fill="none"/>
<path d="M437.9 51.4V79.4" stroke="#4169e1" stroke-opacity=".8" stroke-width="1.7" fill="none"/>
<path d="M434.5 72.8V88.5" stroke="#4169e1" stroke-opacity=".8" stroke-width="1.7" fill="none"/>
<path d="M344.2 48.4H361.3" stroke="#4169e1" stroke-opacity=".8" stroke-width="1.7" fill="none"/>
<path d="M364.6 75.1V109.5" stroke="#4169e1" stroke-opacity=".8" stroke-width="1.7" fill="none"/>
<path d="M390.9 97.7H405.3" stroke="#4169e1" stroke-opacity=".8" stroke-width="1.7" fill="none"/>
<path d="M423.2 76.2H438.5M430.5 66.6V87.7" stroke="#4169e1" stroke-opacity=".8" stroke-width="1.7" fill="none"/>
<path d="M422.1 55.4V76.7" stroke="#4169e1" stroke-opacity=".8" stroke-width="1.7" fill="none"/>
<path d="M365.6 77.9H378.1M371.6 67.1V87.1" stroke="#4169e1" stroke-opacity=".8" stroke-width="1.7" fill="none"/>
<path d="M445.6 84.5V100.5" stroke="#4169e1" stroke-opacity=".8" stroke-width="1.7" fill="none"/>
<path d="M346.3 68.3H359.4" stroke="#4169e1" stroke-opacity=".8" stroke-width="1.7" fill="none"/>
<path d="M399.1 77.4V94.3" stroke="#4169e1" stroke-opacity=".8" stroke-width="1.7" fill="none"/>
<path d="M427.4 71.7V99" stroke="#4169e1" stroke-opacity=".8" stroke-width="1.7" fill="none"/>
<path d="M384.7 80.2V99.3" stroke="#4169e1" stroke-opacity=".8" stroke-width="1.7" fill="none"/>
<path d="M381.4 67.5V82.6" stroke="#4169e1" stroke-opacity=".8" stroke-width="1.7" fill="none"/>
<path d="M402.4 60.9V78.8" stroke="#4169e1" stroke-opacity=".8" stroke-width="1.7" fill="none"/>
<path d="M424.8 65.7H436.8" stroke="#4169e1" stroke-opacity=".8" stroke-width="1.7" fill="none"/>
<path d="M358.3 79.8H375.9" stroke="#4169e1" stroke-opacity=".8" stroke-width="1.7" fill="none"/>
<path d="M355.8 67.4H369.2M362.3 62.9V71.6" stroke="#4169e1" stroke-opacity=".8" stroke-width="1.7" fill="none"/>
<path d="M418.5 58.3H428.5M423.6 48.8V66.7" stroke="#4169e1" stroke-opacity=".8" stroke-width="1.7" fill="none"/>
<path d="M383.7 103.9H393.9M389.3 96.1V111.8" stroke="#4169e1" stroke-opacity=".8" stroke-width="1.7" fill="none"/>
<path d="M398.7 69.2V89.5" stroke="#4169e1" stroke-opacity=".8" stroke-width="1.7" fill="none"/>
<path d="M324.7 86.2H340.4" stroke="#4169e1" stroke-opacity=".8" stroke-width="1.7" fill="none"/>
<path d="M400.7 66V85.4" stroke="#4169e1" stroke-opacity=".8" stroke-width="1.7" fill="none"/>
<path d="M395 70.8V85.5" stroke="#4169e1" stroke-opacity=".8" stroke-width="1.7" fill="none"/>
<path d="M326.3 85.9V97.5" stroke="#4169e1" stroke-opacity=".8" stroke-width="1.7" fill="none"/>
<path d="M406.7 89.3H422.5" stroke="#4169e1" stroke-opacity=".8" stroke-width="1.7" fill="none"/>
<path d="M338.8 91.6V106.3" stroke="#4169e1" stroke-opacity=".8" stroke-width="1.7" fill="none"/>
<path d="M387.7 70H401.1M395.1 64.5V74.4" stroke="#4169e1" stroke-opacity=".8" stroke-width="1.7" fill="none"/>
<path d="M433.7 52.9V63.5" stroke="#4169e1" stroke-opacity=".8" stroke-width="1.7" fill="none"/>
<path d="M360.8 92.8H376" stroke="#4169e1" stroke-opacity=".8" stroke-width="1.7" fill="none"/>
<path d="M439.2 81.1H449.1" stroke="#4169e1" stroke-opacity=".8" stroke-width="1.7" fill="none"/>
<path d="M351.7 85.9V103.9" stroke="#4169e1" stroke-opacity=".8" stroke-width="1.7" fill="none"/>
<path d="M385.6 55.2H401.3" stroke="#4169e1" stroke-opacity=".8" stroke-width="1.7" fill="none"/>
<path d="M459.8 72.1V83" stroke="#4169e1" stroke-opacity=".8" stroke-width="1.7" fill="none"/>
<path d="M392.7 51H409.3" stroke="#4169e1" stroke-opacity=".8" stroke-width="1.7" fill="none"/>
<path d="M412.8 97H427.2" stroke="#4169e1" stroke-opacity=".8" stroke-width="1.7" fill="none"/>
<path d="M388.8 81.1H406.3" stroke="#4169e1" stroke-opacity=".8" stroke-width="1.7" fill="none"/>
<path d="M425.8 57.8V82.6" stroke="#4169e1" stroke-opacity=".8" stroke-width="1.7" fill="none"/>
<path d="M390 85.5H401.1M395.5 76.4V93.5" stroke="#4169e1" stroke-opacity=".8" stroke-width="1.7" fill="none"/>
<path d="M376.8 51.5H392.2" stroke="#4169e1" stroke-opacity=".8" stroke-width="1.7" fill="none"/>
<path d="M397.6 52.3V72.2" stroke="#4169e1" stroke-opacity=".8" stroke-width="1.7" fill="none"/>
<path d="M390 60.9H401.9" stroke="#4169e1" stroke-opacity=".8" stroke-width="1.7" fill="none"/>
<path d="M434.8 51.7V70.9" stroke="#4169e1" stroke-opacity=".8" stroke-width="1.7" fill="none"/>
<path d="M402.3 50.2H417.3" stroke="#4169e1" stroke-opacity=".8" stroke-width="1.7" fill="none"/>
<path d="M410.7 76H422" stroke="#4169e1" stroke-opacity=".8" stroke-width="1.7" fill="none"/>
<path d="M443.4 82.3H452.8" stroke="#4169e1" stroke-opacity=".8" stroke-width="1.7" fill="none"/>
<path d="M458.5 74.6H468.9" stroke="#4169e1" stroke-opacity=".8" stroke-width="1.7" fill="none"/>
<path d="M339 67H352.7" stroke="#4169e1" stroke-opacity=".8" stroke-width="1.7" fill="none"/>
<path d="M339.1 76.5V106.9" stroke="#4169e1" stroke-opacity=".8" stroke-width="1.7" fill="none"/>
<path d="M349.7 53.4H359.9" stroke="#4169e1" stroke-opacity=".8" stroke-width="1.7" fill="none"/>
<path d="M328 90.6H342.5" stroke="#4169e1" stroke-opacity=".8" stroke-width="1.7" fill="none"/>
<path d="M334.4 75.8H343.8" stroke="#4169e1" stroke-opacity=".8" stroke-width="1.7" fill="none"/>
<path d="M436.7 64.7H449.9" stroke="#4169e1" stroke-opacity=".8" stroke-width="1.7" fill="none"/>
<path d="M328.5 70.3V85.6" stroke="#4169e1" stroke-opacity=".8" stroke-width="1.7" fill="none"/>
<path d="M371.1 78.5H382.8" stroke="#4169e1" stroke-opacity=".8" stroke-width="1.7" fill="none"/>
<path d="M325.4 78.5V96.6" stroke="#4169e1" stroke-opacity=".8" stroke-width="1.7" fill="none"/>
<path d="M361.1 86.9H375.5" stroke="#4169e1" stroke-opacity=".8" stroke-width="1.7" fill="none"/>
<path d="M362.4 68.6V78.5" stroke="#4169e1" stroke-opacity=".8" stroke-width="1.7" fill="none"/>
<path d="M360.8 69.6H372.7M366.4 61.5V78.5" stroke="#4169e1" stroke-opacity=".8" stroke-width="1.7" fill="none"/>
<path d="M402.4 87.1H417.9" stroke="#4169e1" stroke-opacity=".8" stroke-width="1.7" fill="none"/>
<path d="M416.8 68.1V80.3" stroke="#4169e1" stroke-opacity=".8" stroke-width="1.7" fill="none"/>
<path d="M374.5 82.5H386" stroke="#4169e1" stroke-opacity=".8" stroke-width="1.7" fill="none"/>
<path d="M399 75.7H415.7M408 60V88.7" stroke="#4169e1" stroke-opacity=".8" stroke-width="1.7" fill="none"/>
<path d="M381.3 66V79.6" stroke="#4169e1" stroke-opacity=".8" stroke-width="1.7" fill="none"/>
<path d="M352.3 66.2V76.2" stroke="#4169e1" stroke-opacity=".8" stroke-width="1.7" fill="none"/>
<path d="M420.7 78.1H433.2" stroke="#4169e1" stroke-opacity=".8" stroke-width="1.7" fill="none"/>
<path d="M379.7 51.6H392.5" stroke="#4169e1" stroke-opacity=".8" stroke-width="1.7" fill="none"/>
<path d="M444.4 55.9V70.3" stroke="#4169e1" stroke-opacity=".8" stroke-width="1.7" fill="none"/>
<path d="M405.9 88.4H418.7" stroke="#4169e1" stroke-opacity=".8" stroke-width="1.7" fill="none"/>
<path d="M377 49H391.8M385 43.9V54.5" stroke="#4169e1" stroke-opacity=".8" stroke-width="1.7" fill="none"/>
<path d="M338.2 59.5H354.8" stroke="#4169e1" stroke-opacity=".8" stroke-width="1.7" fill="none"/>
<path d="M382.6 68.1H401.1" stroke="#4169e1" stroke-opacity=".8" stroke-width="1.7" fill="none"/>
<path d="M384.8 85H394.8" stroke="#4169e1" stroke-opacity=".8" stroke-width="1.7" fill="none"/>
<path d="M375.7 92H387.4" stroke="#4169e1" stroke-opacity=".8" stroke-width="1.7" fill="none"/>
<path d="M439.1 57.8H450.9M445.3 47V69.5" stroke="#4169e1" stroke-opacity=".8" stroke-width="1.7" fill="none"/>
<path d="M338.2 73.4V85.2" stroke="#4169e1" stroke-opacity=".8" stroke-width="1.7" fill="none"/>
<path d="M345.6 60.7H354.6" stroke="#4169e1" stroke-opacity=".8" stroke-width="1.7" fill="none"/>
<path d="M384 100.5H395.8" stroke="#4169e1" stroke-opacity=".8" stroke-width="1.7" fill="none"/>
<path d="M348.2 72.9H363.9M355.9 62.5V83.1" stroke="#4169e1" stroke-opacity=".8" stroke-width="1.7" fill="none"/>
<path d="M350.5 84.1H367.5M358.9 76.3V91.4" stroke="#4169e1" stroke-opacity=".8" stroke-width="1.7" fill="none"/>
<path d="M363.8 68.4H374" stroke="#4169e1" stroke-opacity=".8" stroke-width="1.7" fill="none"/>
<path d="M393.2 61.7H405.5M399.1 56.4V66.7" stroke="#4169e1" stroke-opacity=".8" stroke-width="1.7" fill="none"/>
<path d="M415.8 90.6H432.9" stroke="#4169e1" stroke-opacity=".8" stroke-width="1.7" fill="none"/>
<path d="M351.3 55.6V69.4" stroke="#4169e1" stroke-opacity=".8" stroke-width="1.7" fill="none"/>
<path d="M348.4 93.4V109.1" stroke="#4169e1" stroke-opacity=".8" stroke-width="1.7" fill="none"/>
<path d="M411.6 72.9H426.9" stroke="#4169e1" stroke-opacity=".8" stroke-width="1.7" fill="none"/>
<path d="M399.8 58.3H411.3" stroke="#4169e1" stroke-opacity=".8" stroke-width="1.7" fill="none"/>
<path d="M448.8 70.9V89.5" stroke="#4169e1" stroke-opacity=".8" stroke-width="1.7" fill="none"/>
<path d="M392.9 89.1V101.7" stroke="#4169e1" stroke-opacity=".8" stroke-width="1.7" fill="none"/>
<path d="M424.9 72.6H436.5" stroke="#4169e1" stroke-opacity=".8" stroke-width="1.7" fill="none"/>
<path d="M355.1 58H365" stroke="#4169e1" stroke-opacity=".8" stroke-width="1.7" fill="none"/>
<path d="M429.1 63.8H445.7M437.3 50.6V76.8" stroke="#4169e1" stroke-opacity=".8" stroke-width="1.7" fill="none"/>
<path d="M392.3 76.3H403" stroke="#4169e1" stroke-opacity=".8" stroke-width="1.7" fill="none"/>
<path d="M419.8 84.2H433.9" stroke="#4169e1" stroke-opacity=".8" stroke-width="1.7" fill="none"/>
<path d="M419.8 72.5H434.9" stroke="#4169e1" stroke-opacity=".8" stroke-width="1.7" fill="none"/>
<path d="M349 81.5H361.5" stroke="#4169e1" stroke-opacity=".8" stroke-width="1.7" fill="none"/>
<path d="M401 96.1H416.5M409 90.1V101" stroke="#4169e1" stroke-opacity=".8" stroke-width="1.7" fill="none"/>
<path d="M406.2 55.6H422.8" stroke="#4169e1" stroke-opacity=".8" stroke-width="1.7" fill="none"/>
<path d="M398.1 98.1H414.5" stroke="#4169e1" stroke-opacity=".8" stroke-width="1.7" fill="none"/>
<path d="M337.4 82.8V112.9" stroke="#4169e1" stroke-opacity=".8" stroke-width="1.7" fill="none"/>
<path d="M449.3 79.2V99.2" stroke="#4169e1" stroke-opacity=".8" stroke-width="1.7" fill="none"/>
<path d="M336.3 88.6H349.9M343 80.4V99.1" stroke="#4169e1" stroke-opacity=".8" stroke-width="1.7" fill="none"/>
<path d="M420 70.2V105.5" stroke="#4169e1" stroke-opacity=".8" stroke-width="1.7" fill="none"/>
<path d="M372 57.8H385M378 53.3V62.5" stroke="#4169e1" stroke-opacity=".8" stroke-width="1.7" fill="none"/>
<path d="M390.4 76.3V85.9" stroke="#4169e1" stroke-opacity=".8" stroke-width="1.7" fill="none"/>
<path d="M405.1 46.1H418.9" stroke="#4169e1" stroke-opacity=".8" stroke-width="1.7" fill="none"/>
<path d="M346 52.5V66" stroke="#4169e1" stroke-opacity=".8" stroke-width="1.7" fill="none"/>
<path d="M367 50.1H381.2" stroke="#4169e1" stroke-opacity=".8" stroke-width="1.7" fill="none"/>
<path d="M420.9 64.6H433.2M427.3 56V73.6" stroke="#4169e1" stroke-opacity=".8" stroke-width="1.7" fill="none"/>
<path d="M414.5 48.3V70.2" stroke="#4169e1" stroke-opacity=".8" stroke-width="1.7" fill="none"/>
<path d="M417 86.9V97.2" stroke="#4169e1" stroke-opacity=".8" stroke-width="1.7" fill="none"/>
<path d="M320.8 76.4H337" stroke="#4169e1" stroke-opacity=".8" stroke-width="1.7" fill="none"/>
<path d="M348 88.7V99" stroke="#4169e1" stroke-opacity=".8" stroke-width="1.7" fill="none"/>
<path d="M392.7 54.3V71.3" stroke="#4169e1" stroke-opacity=".8" stroke-width="1.7" fill="none"/>
<path d="M422 61.1V77.4" stroke="#4169e1" stroke-opacity=".8" stroke-width="1.7" fill="none"/>
<path d="M413.4 56.4H424.2" stroke="#4169e1" stroke-opacity=".8" stroke-width="1.7" fill="none"/>
<path d="M352.1 78V110.4" stroke="#4169e1" stroke-opacity=".8" stroke-width="1.7" fill="none"/>
<path d="M362.2 81.4V108" stroke="#4169e1" stroke-opacity=".8" stroke-width="1.7" fill="none"/>
<path d="M459.6 56.1V79.4" stroke="#4169e1" stroke-opacity=".8" stroke-width="1.7" fill="none"/>
<path d="M340.6 89.5H353.2" stroke="#4169e1" stroke-opacity=".8" stroke-width="1.7" fill="none"/>
<path d="M438.4 89.9H450.9M445.2 82.6V95.9" stroke="#4169e1" stroke-opacity=".8" stroke-width="1.7" fill="none"/>
<path d="M429.9 60H441.3M435.6 55.2V64.8" stroke="#4169e1" stroke-opacity=".8" stroke-width="1.7" fill="none"/>
<path d="M400.3 66.4H415.7" stroke="#4169e1" stroke-opacity=".8" stroke-width="1.7" fill="none"/>
<path d="M371.9 69.8H391.4M380.9 61.4V77.7" stroke="#4169e1" stroke-opacity=".8" stroke-width="1.7" fill="none"/>
<path d="M349.7 54.6H367.7" stroke="#4169e1" stroke-opacity=".8" stroke-width="1.7" fill="none"/>
<path d="M454.8 68.4V87.1" stroke="#4169e1" stroke-opacity=".8" stroke-width="1.7" fill="none"/>
<path d="M397.3 74.6H407.7" stroke="#4169e1" stroke-opacity=".8" stroke-width="1.7" fill="none"/>
<path d="M402.8 72.7V85.1" stroke="#4169e1" stroke-opacity=".8" stroke-width="1.7" fill="none"/>
<path d="M446.9 70.8V87" stroke="#4169e1" stroke-opacity=".8" stroke-width="1.7" fill="none"/>
<path d="M427.5 59.8V73.4" stroke="#4169e1" stroke-opacity=".8" stroke-width="1.7" fill="none"/>
<path d="M433.5 50.1V68.5" stroke="#4169e1" stroke-opacity=".8" stroke-width="1.7" fill="none"/>
<path d="M389.9 53.3V81.9" stroke="#4169e1" stroke-opacity=".8" stroke-width="1.7" fill="none"/>
<path d="M380.9 71.2V94.5" stroke="#4169e1" stroke-opacity=".8" stroke-width="1.7" fill="none"/>
<path d="M378.8 78.8V97.5" stroke="#4169e1" stroke-opacity=".8" stroke-width="1.7" fill="none"/>
<path d="M328.7 80.3V98.4" stroke="#4169e1" stroke-opacity=".8" stroke-width="1.7" fill="none"/>
<path d="M353.1 62.8H369.9" stroke="#4169e1" stroke-opacity=".8" stroke-width="1.7" fill="none"/>
<path d="M368.1 96.9V107.5" stroke="#4169e1" stroke-opacity=".8" stroke-width="1.7" fill="none"/>
<path d="M404.2 57.1V84.9" stroke="#4169e1" stroke-opacity=".8" stroke-width="1.7" fill="none"/>
<path d="M380.1 86.3H395.8M388.5 78V96.9" stroke="#4169e1" stroke-opacity=".8" stroke-width="1.7" fill="none"/>
<path d="M418.4 61.5H433.9M426.6 51.1V70.4" stroke="#4169e1" stroke-opacity=".8" stroke-width="1.7" fill="none"/>
<path d="M420.7 51.4H435.4" stroke="#4169e1" stroke-opacity=".8" stroke-width="1.7" fill="none"/>
<path d="M361.8 80.7H377.8M370.4 64.6V99.9" stroke="#4169e1" stroke-opacity=".8" stroke-width="1.7" fill="none"/>
<path d="M421.2 48.9V65.1" stroke="#4169e1" stroke-opacity=".8" stroke-width="1.7" fill="none"/>
<path d="M379.7 89.2H397.8M387.9 78.7V102.5" stroke="#4169e1" stroke-opacity=".8" stroke-width="1.7" fill="none"/>
<path d="M396.6 97.1V107.6" stroke="#4169e1" stroke-opacity=".8" stroke-width="1.7" fill="none"/>
<path d="M359.7 26.8V46.3" stroke="#4169e1" stroke-opacity=".8" stroke-width="1.7" fill="none"/>
<path d="M351 40.1H372" stroke="#4169e1" stroke-opacity=".8" stroke-width="1.7" fill="none"/>
<path d="M379 36.8H402" stroke="#4169e1" stroke-opacity=".8" stroke-width="1.7" fill="none"/>
<path d="M388.2 29.3V52.3" stroke="#4169e1" stroke-opacity=".8" stroke-width="1.7" fill="none"/>
<path d="M416.8 25.3V50.3" stroke="#4169e1" stroke-opacity=".8" stroke-width="1.7" fill="none"/>
<path d="M421 48.8V60.3" stroke="#4169e1" stroke-opacity=".8" stroke-width="1.7" fill="none"/>
<path d="M433.6 37.3V60.3" stroke="#4169e1" stroke-opacity=".8" stroke-width="1.7" fill="none"/>
<path d="M450.4 55.3V70.3" stroke="#4169e1" stroke-opacity=".8" stroke-width="1.7" fill="none"/>
<path d="M448 61.3H474.5" stroke="#4169e1" stroke-opacity=".8" stroke-width="1.7" fill="none"/>
<path d="M422 100.7H434" stroke="#4169e1" stroke-opacity=".8" stroke-width="1.7" fill="none"/>
<path d="M437 90.3V109.3" stroke="#4169e1" stroke-opacity=".8" stroke-width="1.7" fill="none"/>
<path d="M443.8 88.3V108.3" stroke="#4169e1" stroke-opacity=".8" stroke-width="1.7" fill="none"/>
<path d="M471.5 75.8V101.3" stroke="#4169e1" stroke-opacity=".8" stroke-width="1.7" fill="none"/>
<circle cx="84.4" cy="308.3" r="3.7" fill="#4169e1" fill-opacity=".8" stroke="#4169e1" stroke-opacity=".8" stroke-width="1"/>
<circle cx="121.5" cy="303.5" r="3.7" fill="#4169e1" fill-opacity=".8" stroke="#4169e1" stroke-opacity=".8" stroke-width="1"/>
<circle cx="130.5" cy="302.5" r="3.7" fill="#4169e1" fill-opacity=".8" stroke="#4169e1" stroke-opacity=".8" stroke-width="1"/>
<circle cx="131.5" cy="296.6" r="3.7" fill="#4169e1" fill-opacity=".8" stroke="#4169e1" stroke-opacity=".8" stroke-width="1"/>
<circle cx="135" cy="290.3" r="3.7" fill="#4169e1" fill-opacity=".8" stroke="#4169e1" stroke-opacity=".8" stroke-width="1"/>
<circle cx="168.4" cy="291.9" r="3.7" fill="#4169e1" fill-opacity=".8" stroke="#4169e1" stroke-opacity=".8" stroke-width="1"/>
<circle cx="180.4" cy="288.3" r="3.7" fill="#4169e1" fill-opacity=".8" stroke="#4169e1" stroke-opacity=".8" stroke-width="1"/>
<circle cx="199" cy="271.9" r="3.7" fill="#4169e1" fill-opacity=".8" stroke="#4169e1" stroke-opacity=".8" stroke-width="1"/>
<circle cx="199.6" cy="280.3" r="3.7" fill="#4169e1" fill-opacity=".8" stroke="#4169e1" stroke-opacity=".8" stroke-width="1"/>
<circle cx="210" cy="259.9" r="3.7" fill="#4169e1" fill-opacity=".8" stroke="#4169e1" stroke-opacity=".8" stroke-width="1"/>
<circle cx="211" cy="250.7" r="3.7" fill="#4169e1" fill-opacity=".8" stroke="#4169e1" stroke-opacity=".8" stroke-width="1"/>
<circle cx="218.5" cy="256.7" r="3.7" fill="#4169e1" fill-opacity=".8" stroke="#4169e1" stroke-opacity=".8" stroke-width="1"/>
<circle cx="211.6" cy="268.3" r="3.7" fill="#4169e1" fill-opacity=".8" stroke="#4169e1" stroke-opacity=".8" stroke-width="1"/>
<circle cx="213" cy="274.7" r="3.7" fill="#4169e1" fill-opacity=".8" stroke="#4169e1" stroke-opacity=".8" stroke-width="1"/>
<circle cx="242.8" cy="265.6" r="3.7" fill="#4169e1" fill-opacity=".8" stroke="#4169e1" stroke-opacity=".8" stroke-width="1"/>
<circle cx="292" cy="270.7" r="3.7" fill="#4169e1" fill-opacity=".8" stroke="#4169e1" stroke-opacity=".8" stroke-width="1"/>
<circle cx="157" cy="221.3" r="3.7" fill="#4169e1" fill-opacity=".8" stroke="#4169e1" stroke-opacity=".8" stroke-width="1"/>
<circle cx="176.5" cy="224.8" r="3.7" fill="#4169e1" fill-opacity=".8" stroke="#4169e1" stroke-opacity=".8" stroke-width="1"/>
<circle cx="205.5" cy="211.3" r="3.7" fill="#4169e1" fill-opacity=".8" stroke="#4169e1" stroke-opacity=".8" stroke-width="1"/>
<circle cx="200" cy="233.3" r="3.7" fill="#4169e1" fill-opacity=".8" stroke="#4169e1" stroke-opacity=".8" stroke-width="1"/>
<circle cx="197.8" cy="223.8" r="3.7" fill="#4169e1" fill-opacity=".8" stroke="#4169e1" stroke-opacity=".8" stroke-width="1"/>
<circle cx="221" cy="213.9" r="3.7" fill="#4169e1" fill-opacity=".8" stroke="#4169e1" stroke-opacity=".8" stroke-width="1"/>
<circle cx="234" cy="213.9" r="3.7" fill="#4169e1" fill-opacity=".8" stroke="#4169e1" stroke-opacity=".8" stroke-width="1"/>
<circle cx="215" cy="223.9" r="3.7" fill="#4169e1" fill-opacity=".8" stroke="#4169e1" stroke-opacity=".8" stroke-width="1"/>
<circle cx="216" cy="230.3" r="3.7" fill="#4169e1" fill-opacity=".8" stroke="#4169e1" stroke-opacity=".8" stroke-width="1"/>
<circle cx="206" cy="233.3" r="3.7" fill="#4169e1" fill-opacity=".8" stroke="#4169e1" stroke-opacity=".8" stroke-width="1"/>
<circle cx="203" cy="237.3" r="3.7" fill="#4169e1" fill-opacity=".8" stroke="#4169e1" stroke-opacity=".8" stroke-width="1"/>
<circle cx="210" cy="239.3" r="3.7" fill="#4169e1" fill-opacity=".8" stroke="#4169e1" stroke-opacity=".8" stroke-width="1"/>
<circle cx="216" cy="237.3" r="3.7" fill="#4169e1" fill-opacity=".8" stroke="#4169e1" stroke-opacity=".8" stroke-width="1"/>
<circle cx="231" cy="230.3" r="3.7" fill="#4169e1" fill-opacity=".8" stroke="#4169e1" stroke-opacity=".8" stroke-width="1"/>
<circle cx="241" cy="223.9" r="3.7" fill="#4169e1" fill-opacity=".8" stroke="#4169e1" stroke-opacity=".8" stroke-width="1"/>
<circle cx="242" cy="233.3" r="3.7" fill="#4169e1" fill-opacity=".8" stroke="#4169e1" stroke-opacity=".8" stroke-width="1"/>
<circle cx="248" cy="226.3" r="3.7" fill="#4169e1" fill-opacity=".8" stroke="#4169e1" stroke-opacity=".8" stroke-width="1"/>
<circle cx="249.4" cy="236.3" r="3.7" fill="#4169e1" fill-opacity=".8" stroke="#4169e1" stroke-opacity=".8" stroke-width="1"/>
<circle cx="260" cy="230.7" r="3.7" fill="#4169e1" fill-opacity=".8" stroke="#4169e1" stroke-opacity=".8" stroke-width="1"/>
<circle cx="233" cy="230.3" r="3.7" fill="#4169e1" fill-opacity=".8" stroke="#4169e1" stroke-opacity=".8" stroke-width="1"/>
<circle cx="225.5" cy="200.8" r="3.7" fill="#4169e1" fill-opacity=".8" stroke="#4169e1" stroke-opacity=".8" stroke-width="1"/>
<circle cx="235" cy="202.3" r="3.7" fill="#4169e1" fill-opacity=".8" stroke="#4169e1" stroke-opacity=".8" stroke-width="1"/>
<circle cx="244" cy="201.3" r="3.7" fill="#4169e1" fill-opacity=".8" stroke="#4169e1" stroke-opacity=".8" stroke-width="1"/>
<circle cx="234" cy="213.3" r="3.7" fill="#4169e1" fill-opacity=".8" stroke="#4169e1" stroke-opacity=".8" stroke-width="1"/>
<circle cx="219" cy="184.3" r="3.7" fill="#4169e1" fill-opacity=".8" stroke="#4169e1" stroke-opacity=".8" stroke-width="1"/>
<circle cx="227.2" cy="190.5" r="3.7" fill="#4169e1" fill-opacity=".8" stroke="#4169e1" stroke-opacity=".8" stroke-width="1"/>
<circle cx="212" cy="195.8" r="3.7" fill="#4169e1" fill-opacity=".8" stroke="#4169e1" stroke-opacity=".8" stroke-width="1"/>
<circle cx="215.5" cy="192.3" r="3.7" fill="#4169e1" fill-opacity=".8" stroke="#4169e1" stroke-opacity=".8" stroke-width="1"/>
<circle cx="206" cy="209.3" r="3.7" fill="#4169e1" fill-opacity=".8" stroke="#4169e1" stroke-opacity=".8" stroke-width="1"/>
<circle cx="221" cy="207.3" r="3.7" fill="#4169e1" fill-opacity=".8" stroke="#4169e1" stroke-opacity=".8" stroke-width="1"/>
<circle cx="238.4" cy="186.3" r="3.7" fill="#4169e1" fill-opacity=".8" stroke="#4169e1" stroke-opacity=".8" stroke-width="1"/>
<circle cx="246.4" cy="139.3" r="3.7" fill="#4169e1" fill-opacity=".8" stroke="#4169e1" stroke-opacity=".8" stroke-width="1"/>
<circle cx="235.6" cy="150.3" r="3.7" fill="#4169e1" fill-opacity=".8" stroke="#4169e1" stroke-opacity=".8" stroke-width="1"/>
<circle cx="253" cy="148.3" r="3.7" fill="#4169e1" fill-opacity=".8" stroke="#4169e1" stroke-opacity=".8" stroke-width="1"/>
<circle cx="262" cy="145.3" r="3.7" fill="#4169e1" fill-opacity=".8" stroke="#4169e1" stroke-opacity=".8" stroke-width="1"/>
<circle cx="259.4" cy="155.7" r="3.7" fill="#4169e1" fill-opacity=".8" stroke="#4169e1" stroke-opacity=".8" stroke-width="1"/>
<circle cx="248.4" cy="161.3" r="3.7" fill="#4169e1" fill-opacity=".8" stroke="#4169e1" stroke-opacity=".8" stroke-width="1"/>
<circle cx="250.5" cy="159.6" r="3.7" fill="#4169e1" fill-opacity=".8" stroke="#4169e1" stroke-opacity=".8" stroke-width="1"/>
<circle cx="240" cy="166.3" r="3.7" fill="#4169e1" fill-opacity=".8" stroke="#4169e1" stroke-opacity=".8" stroke-width="1"/>
<circle cx="249" cy="162.3" r="3.7" fill="#4169e1" fill-opacity=".8" stroke="#4169e1" stroke-opacity=".8" stroke-width="1"/>
<circle cx="286" cy="140.8" r="3.7" fill="#4169e1" fill-opacity=".8" stroke="#4169e1" stroke-opacity=".8" stroke-width="1"/>
<circle cx="292" cy="126.3" r="3.7" fill="#4169e1" fill-opacity=".8" stroke="#4169e1" stroke-opacity=".8" stroke-width="1"/>
<circle cx="289.4" cy="148.3" r="3.7" fill="#4169e1" fill-opacity=".8" stroke="#4169e1" stroke-opacity=".8" stroke-width="1"/>
<circle cx="293" cy="157.3" r="3.7" fill="#4169e1" fill-opacity=".8" stroke="#4169e1" stroke-opacity=".8" stroke-width="1"/>
<circle cx="279" cy="179.3" r="3.7" fill="#4169e1" fill-opacity=".8" stroke="#4169e1" stroke-opacity=".8" stroke-width="1"/>
<circle cx="281.5" cy="183.3" r="3.7" fill="#4169e1" fill-opacity=".8" stroke="#4169e1" stroke-opacity=".8" stroke-width="1"/>
<circle cx="270.6" cy="189.3" r="3.7" fill="#4169e1" fill-opacity=".8" stroke="#4169e1" stroke-opacity=".8" stroke-width="1"/>
<circle cx="296.5" cy="179.9" r="3.7" fill="#4169e1" fill-opacity=".8" stroke="#4169e1" stroke-opacity=".8" stroke-width="1"/>
<circle cx="312.2" cy="164.5" r="3.7" fill="#4169e1" fill-opacity=".8" stroke="#4169e1" stroke-opacity=".8" stroke-width="1"/>
<circle cx="326.5" cy="190.9" r="3.7" fill="#4169e1" fill-opacity=".8" stroke="#4169e1" stroke-opacity=".8" stroke-width="1"/>
<circle cx="312.6" cy="211.3" r="3.7" fill="#4169e1" fill-opacity=".8" stroke="#4169e1" stroke-opacity=".8" stroke-width="1"/>
<circle cx="337.8" cy="217.3" r="3.7" fill="#4169e1" fill-opacity=".8" stroke="#4169e1" stroke-opacity=".8" stroke-width="1"/>
<circle cx="337.8" cy="220.7" r="3.7" fill="#4169e1" fill-opacity=".8" stroke="#4169e1" stroke-opacity=".8" stroke-width="1"/>
<circle cx="207.8" cy="110.3" r="3.7" fill="#4169e1" fill-opacity=".8" stroke="#4169e1" stroke-opacity=".8" stroke-width="1"/>
<circle cx="279" cy="102.1" r="3.7" fill="#4169e1" fill-opacity=".8" stroke="#4169e1" stroke-opacity=".8" stroke-width="1"/>
<circle cx="289.4" cy="102.7" r="3.7" fill="#4169e1" fill-opacity=".8" stroke="#4169e1" stroke-opacity=".8" stroke-width="1"/>
<circle cx="298" cy="97.9" r="3.7" fill="#4169e1" fill-opacity=".8" stroke="#4169e1" stroke-opacity=".8" stroke-width="1"/>
<circle cx="305" cy="98.3" r="3.7" fill="#4169e1" fill-opacity=".8" stroke="#4169e1" stroke-opacity=".8" stroke-width="1"/>
<circle cx="311" cy="102.1" r="3.7" fill="#4169e1" fill-opacity=".8" stroke="#4169e1" stroke-opacity=".8" stroke-width="1"/>
<circle cx="296.4" cy="108.9" r="3.7" fill="#4169e1" fill-opacity=".8" stroke="#4169e1" stroke-opacity=".8" stroke-width="1"/>
<circle cx="264" cy="118.3" r="3.7" fill="#4169e1" fill-opacity=".8" stroke="#4169e1" stroke-opacity=".8" stroke-width="1"/>
<circle cx="288.4" cy="116.9" r="3.7" fill="#4169e1" fill-opacity=".8" stroke="#4169e1" stroke-opacity=".8" stroke-width="1"/>
<circle cx="272.2" cy="125.8" r="3.7" fill="#4169e1" fill-opacity=".8" stroke="#4169e1" stroke-opacity=".8" stroke-width="1"/>
<circle cx="292.2" cy="125.5" r="3.7" fill="#4169e1" fill-opacity=".8" stroke="#4169e1" stroke-opacity=".8" stroke-width="1"/>
<circle cx="312" cy="130.6" r="3.7" fill="#4169e1" fill-opacity=".8" stroke="#4169e1" stroke-opacity=".8" stroke-width="1"/>
<circle cx="319" cy="147.7" r="3.7" fill="#4169e1" fill-opacity=".8" stroke="#4169e1" stroke-opacity=".8" stroke-width="1"/>
<circle cx="307" cy="86.3" r="3.7" fill="#4169e1" fill-opacity=".8" stroke="#4169e1" stroke-opacity=".8" stroke-width="1"/>
<circle cx="310" cy="69.3" r="3.7" fill="#4169e1" fill-opacity=".8" stroke="#4169e1" stroke-opacity=".8" stroke-width="1"/>
<circle cx="314.4" cy="68.3" r="3.7" fill="#4169e1" fill-opacity=".8" stroke="#4169e1" stroke-opacity=".8" stroke-width="1"/>
<circle cx="318" cy="73.3" r="3.7" fill="#4169e1" fill-opacity=".8" stroke="#4169e1" stroke-opacity=".8" stroke-width="1"/>
<circle cx="320.4" cy="112.1" r="3.7" fill="#4169e1" fill-opacity=".8" stroke="#4169e1" stroke-opacity=".8" stroke-width="1"/>
<circle cx="320.4" cy="120.3" r="3.7" fill="#4169e1" fill-opacity=".8" stroke="#4169e1" stroke-opacity=".8" stroke-width="1"/>
<circle cx="324" cy="105.3" r="3.7" fill="#4169e1" fill-opacity=".8" stroke="#4169e1" stroke-opacity=".8" stroke-width="1"/>
<circle cx="331" cy="121.3" r="3.7" fill="#4169e1" fill-opacity=".8" stroke="#4169e1" stroke-opacity=".8" stroke-width="1"/>
<circle cx="341" cy="123.3" r="3.7" fill="#4169e1" fill-opacity=".8" stroke="#4169e1" stroke-opacity=".8" stroke-width="1"/>
<circle cx="345" cy="127.3" r="3.7" fill="#4169e1" fill-opacity=".8" stroke="#4169e1" stroke-opacity=".8" stroke-width="1"/>
<circle cx="354" cy="131.3" r="3.7" fill="#4169e1" fill-opacity=".8" stroke="#4169e1" stroke-opacity=".8" stroke-width="1"/>
<circle cx="348" cy="116.3" r="3.7" fill="#4169e1" fill-opacity=".8" stroke="#4169e1" stroke-opacity=".8" stroke-width="1"/>
<circle cx="353" cy="109.3" r="3.7" fill="#4169e1" fill-opacity=".8" stroke="#4169e1" stroke-opacity=".8" stroke-width="1"/>
<circle cx="342" cy="101.3" r="3.7" fill="#4169e1" fill-opacity=".8" stroke="#4169e1" stroke-opacity=".8" stroke-width="1"/>
<circle cx="361" cy="112.3" r="3.7" fill="#4169e1" fill-opacity=".8" stroke="#4169e1" stroke-opacity=".8" stroke-width="1"/>
<circle cx="368" cy="108.3" r="3.7" fill="#4169e1" fill-opacity=".8" stroke="#4169e1" stroke-opacity=".8" stroke-width="1"/>
<circle cx="370" cy="114.3" r="3.7" fill="#4169e1" fill-opacity=".8" stroke="#4169e1" stroke-opacity=".8" stroke-width="1"/>
<circle cx="338.4" cy="63.3" r="3.7" fill="#4169e1" fill-opacity=".8" stroke="#4169e1" stroke-opacity=".8" stroke-width="1"/>
<circle cx="323" cy="73.3" r="3.7" fill="#4169e1" fill-opacity=".8" stroke="#4169e1" stroke-opacity=".8" stroke-width="1"/>
<circle cx="331" cy="78.3" r="3.7" fill="#4169e1" fill-opacity=".8" stroke="#4169e1" stroke-opacity=".8" stroke-width="1"/>
<circle cx="502.8" cy="33.8" r="3.7" fill="#4169e1" fill-opacity=".8" stroke="#4169e1" stroke-opacity=".8" stroke-width="1"/>
<circle cx="519.2" cy="52.9" r="3.7" fill="#4169e1" fill-opacity=".8" stroke="#4169e1" stroke-opacity=".8" stroke-width="1"/>
<circle cx="486.8" cy="57.8" r="3.7" fill="#4169e1" fill-opacity=".8" stroke="#4169e1" stroke-opacity=".8" stroke-width="1"/>
<circle cx="479.5" cy="59.7" r="3.7" fill="#4169e1" fill-opacity=".8" stroke="#4169e1" stroke-opacity=".8" stroke-width="1"/>
<circle cx="483" cy="64.3" r="3.7" fill="#4169e1" fill-opacity=".8" stroke="#4169e1" stroke-opacity=".8" stroke-width="1"/>
<circle cx="498.7" cy="74.9" r="3.7" fill="#4169e1" fill-opacity=".8" stroke="#4169e1" stroke-opacity=".8" stroke-width="1"/>
<circle cx="513" cy="72.5" r="3.7" fill="#4169e1" fill-opacity=".8" stroke="#4169e1" stroke-opacity=".8" stroke-width="1"/>
<circle cx="519.2" cy="70.1" r="3.7" fill="#4169e1" fill-opacity=".8" stroke="#4169e1" stroke-opacity=".8" stroke-width="1"/>
<circle cx="522.5" cy="78.9" r="3.7" fill="#4169e1" fill-opacity=".8" stroke="#4169e1" stroke-opacity=".8" stroke-width="1"/>
<circle cx="519.7" cy="81.7" r="3.7" fill="#4169e1" fill-opacity=".8" stroke="#4169e1" stroke-opacity=".8" stroke-width="1"/>
<circle cx="506" cy="85.3" r="3.7" fill="#4169e1" fill-opacity=".8" stroke="#4169e1" stroke-opacity=".8" stroke-width="1"/>
<circle cx="500.5" cy="88.8" r="3.7" fill="#4169e1" fill-opacity=".8" stroke="#4169e1" stroke-opacity=".8" stroke-width="1"/>
<circle cx="487.5" cy="93.3" r="3.7" fill="#4169e1" fill-opacity=".8" stroke="#4169e1" stroke-opacity=".8" stroke-width="1"/>
<circle cx="514.6" cy="95.9" r="3.7" fill="#4169e1" fill-opacity=".8" stroke="#4169e1" stroke-opacity=".8" stroke-width="1"/>
<circle cx="515.4" cy="96.9" r="3.7" fill="#4169e1" fill-opacity=".8" stroke="#4169e1" stroke-opacity=".8" stroke-width="1"/>
<circle cx="507" cy="101.3" r="3.7" fill="#4169e1" fill-opacity=".8" stroke="#4169e1" stroke-opacity=".8" stroke-width="1"/>
<circle cx="497.3" cy="109.3" r="3.7" fill="#4169e1" fill-opacity=".8" stroke="#4169e1" stroke-opacity=".8" stroke-width="1"/>
<circle cx="480" cy="96.8" r="3.7" fill="#4169e1" fill-opacity=".8" stroke="#4169e1" stroke-opacity=".8" stroke-width="1"/>
<circle cx="470.3" cy="74.6" r="3.7" fill="#4169e1" fill-opacity=".8" stroke="#4169e1" stroke-opacity=".8" stroke-width="1"/>
<circle cx="471.5" cy="88.3" r="3.7" fill="#4169e1" fill-opacity=".8" stroke="#4169e1" stroke-opacity=".8" stroke-width="1"/>
<circle cx="467.5" cy="61.5" r="3.7" fill="#4169e1" fill-opacity=".8" stroke="#4169e1" stroke-opacity=".8" stroke-width="1"/>
<circle cx="463.9" cy="65.3" r="3.7" fill="#4169e1" fill-opacity=".8" stroke="#4169e1" stroke-opacity=".8" stroke-width="1"/>
<circle cx="457.5" cy="63.3" r="3.7" fill="#4169e1" fill-opacity=".8" stroke="#4169e1" stroke-opacity=".8" stroke-width="1"/>
<circle cx="442.8" cy="60.3" r="3.7" fill="#4169e1" fill-opacity=".8" stroke="#4169e1" stroke-opacity=".8" stroke-width="1"/>
<circle cx="433.7" cy="50.3" r="3.7" fill="#4169e1" fill-opacity=".8" stroke="#4169e1" stroke-opacity=".8" stroke-width="1"/>
<circle cx="431" cy="33.1" r="3.7" fill="#4169e1" fill-opacity=".8" stroke="#4169e1" stroke-opacity=".8" stroke-width="1"/>
<circle cx="468" cy="95.3" r="3.7" fill="#4169e1" fill-opacity=".8" stroke="#4169e1" stroke-opacity=".8" stroke-width="1"/>
<circle cx="467" cy="104.7" r="3.7" fill="#4169e1" fill-opacity=".8" stroke="#4169e1" stroke-opacity=".8" stroke-width="1"/>
<circle cx="470.6" cy="112.3" r="3.7" fill="#4169e1" fill-opacity=".8" stroke="#4169e1" stroke-opacity=".8" stroke-width="1"/>
<circle cx="449" cy="101.3" r="3.7" fill="#4169e1" fill-opacity=".8" stroke="#4169e1" stroke-opacity=".8" stroke-width="1"/>
<circle cx="436.6" cy="100.3" r="3.7" fill="#4169e1" fill-opacity=".8" stroke="#4169e1" stroke-opacity=".8" stroke-width="1"/>
<circle cx="428" cy="101.7" r="3.7" fill="#4169e1" fill-opacity=".8" stroke="#4169e1" stroke-opacity=".8" stroke-width="1"/>
<circle cx="416.4" cy="102.3" r="3.7" fill="#4169e1" fill-opacity=".8" stroke="#4169e1" stroke-opacity=".8" stroke-width="1"/>
<circle cx="410" cy="106.3" r="3.7" fill="#4169e1" fill-opacity=".8" stroke="#4169e1" stroke-opacity=".8" stroke-width="1"/>
<circle cx="412" cy="119.3" r="3.7" fill="#4169e1" fill-opacity=".8" stroke="#4169e1" stroke-opacity=".8" stroke-width="1"/>
<circle cx="395.6" cy="122.9" r="3.7" fill="#4169e1" fill-opacity=".8" stroke="#4169e1" stroke-opacity=".8" stroke-width="1"/>
<circle cx="389" cy="106.3" r="3.7" fill="#4169e1" fill-opacity=".8" stroke="#4169e1" stroke-opacity=".8" stroke-width="1"/>
<circle cx="387.4" cy="138.3" r="3.7" fill="#4169e1" fill-opacity=".8" stroke="#4169e1" stroke-opacity=".8" stroke-width="1"/>
<circle cx="441.4" cy="156.3" r="3.7" fill="#4169e1" fill-opacity=".8" stroke="#4169e1" stroke-opacity=".8" stroke-width="1"/>
<circle cx="372" cy="113.3" r="3.7" fill="#4169e1" fill-opacity=".8" stroke="#4169e1" stroke-opacity=".8" stroke-width="1"/>
<circle cx="353.4" cy="130.7" r="3.7" fill="#4169e1" fill-opacity=".8" stroke="#4169e1" stroke-opacity=".8" stroke-width="1"/>
<circle cx="213" cy="229.3" r="3.7" fill="#4169e1" fill-opacity=".8" stroke="#4169e1" stroke-opacity=".8" stroke-width="1"/>
<circle cx="213" cy="234.3" r="3.7" fill="#4169e1" fill-opacity=".8" stroke="#4169e1" stroke-opacity=".8" stroke-width="1"/>
<circle cx="218" cy="235.7" r="3.7" fill="#4169e1" fill-opacity=".8" stroke="#4169e1" stroke-opacity=".8" stroke-width="1"/>
<circle cx="208" cy="227.8" r="3.7" fill="#4169e1" fill-opacity=".8" stroke="#4169e1" stroke-opacity=".8" stroke-width="1"/>
<circle cx="204" cy="229.8" r="3.7" fill="#4169e1" fill-opacity=".8" stroke="#4169e1" stroke-opacity=".8" stroke-width="1"/>
<circle cx="221" cy="226.8" r="3.7" fill="#4169e1" fill-opacity=".8" stroke="#4169e1" stroke-opacity=".8" stroke-width="1"/>
<circle cx="207" cy="241.8" r="3.7" fill="#4169e1" fill-opacity=".8" stroke="#4169e1" stroke-opacity=".8" stroke-width="1"/>
<circle cx="201" cy="228.3" r="3.7" fill="#4169e1" fill-opacity=".8" stroke="#4169e1" stroke-opacity=".8" stroke-width="1"/>
<circle cx="211" cy="233.3" r="3.7" fill="#4169e1" fill-opacity=".8" stroke="#4169e1" stroke-opacity=".8" stroke-width="1"/>
<circle cx="234.5" cy="233.1" r="3.7" fill="#4169e1" fill-opacity=".8" stroke="#4169e1" stroke-opacity=".8" stroke-width="1"/>
<circle cx="246" cy="226.1" r="3.7" fill="#4169e1" fill-opacity=".8" stroke="#4169e1" stroke-opacity=".8" stroke-width="1"/>
<circle cx="247" cy="231.8" r="3.7" fill="#4169e1" fill-opacity=".8" stroke="#4169e1" stroke-opacity=".8" stroke-width="1"/>
<circle cx="220.5" cy="215.3" r="3.7" fill="#4169e1" fill-opacity=".8" stroke="#4169e1" stroke-opacity=".8" stroke-width="1"/>
<circle cx="234.5" cy="215.8" r="3.7" fill="#4169e1" fill-opacity=".8" stroke="#4169e1" stroke-opacity=".8" stroke-width="1"/>
<circle cx="217.4" cy="256" r="3.7" fill="#4169e1" fill-opacity=".8" stroke="#4169e1" stroke-opacity=".8" stroke-width="1"/>
<circle cx="209.7" cy="259.3" r="3.7" fill="#4169e1" fill-opacity=".8" stroke="#4169e1" stroke-opacity=".8" stroke-width="1"/>
<circle cx="170.9" cy="242" r="3.7" fill="#4169e1" fill-opacity=".8" stroke="#4169e1" stroke-opacity=".8" stroke-width="1"/>
<circle cx="177.3" cy="249" r="3.7" fill="#4169e1" fill-opacity=".8" stroke="#4169e1" stroke-opacity=".8" stroke-width="1"/>
<circle cx="186.2" cy="250.3" r="3.7" fill="#4169e1" fill-opacity=".8" stroke="#4169e1" stroke-opacity=".8" stroke-width="1"/>
<circle cx="174" cy="252.3" r="3.7" fill="#4169e1" fill-opacity=".8" stroke="#4169e1" stroke-opacity=".8" stroke-width="1"/>
<circle cx="172" cy="255.3" r="3.7" fill="#4169e1" fill-opacity=".8" stroke="#4169e1" stroke-opacity=".8" stroke-width="1"/>
<circle cx="182.4" cy="255.3" r="3.7" fill="#4169e1" fill-opacity=".8" stroke="#4169e1" stroke-opacity=".8" stroke-width="1"/>
<circle cx="186.2" cy="256.7" r="3.7" fill="#4169e1" fill-opacity=".8" stroke="#4169e1" stroke-opacity=".8" stroke-width="1"/>
<circle cx="176.6" cy="259.8" r="3.7" fill="#4169e1" fill-opacity=".8" stroke="#4169e1" stroke-opacity=".8" stroke-width="1"/>
<circle cx="182.4" cy="261.1" r="3.7" fill="#4169e1" fill-opacity=".8" stroke="#4169e1" stroke-opacity=".8" stroke-width="1"/>
<circle cx="187.5" cy="263.7" r="3.7" fill="#4169e1" fill-opacity=".8" stroke="#4169e1" stroke-opacity=".8" stroke-width="1"/>
<circle cx="172.8" cy="269.3" r="3.7" fill="#4169e1" fill-opacity=".8" stroke="#4169e1" stroke-opacity=".8" stroke-width="1"/>
<circle cx="179" cy="267.3" r="3.7" fill="#4169e1" fill-opacity=".8" stroke="#4169e1" stroke-opacity=".8" stroke-width="1"/>
<circle cx="183.6" cy="268.8" r="3.7" fill="#4169e1" fill-opacity=".8" stroke="#4169e1" stroke-opacity=".8" stroke-width="1"/>
<circle cx="175.4" cy="277" r="3.7" fill="#4169e1" fill-opacity=".8" stroke="#4169e1" stroke-opacity=".8" stroke-width="1"/>
<circle cx="181" cy="275.8" r="3.7" fill="#4169e1" fill-opacity=".8" stroke="#4169e1" stroke-opacity=".8" stroke-width="1"/>
<circle cx="187.5" cy="274.3" r="3.7" fill="#4169e1" fill-opacity=".8" stroke="#4169e1" stroke-opacity=".8" stroke-width="1"/>
<circle cx="165" cy="277.7" r="3.7" fill="#4169e1" fill-opacity=".8" stroke="#4169e1" stroke-opacity=".8" stroke-width="1"/>
<circle cx="178" cy="272.8" r="3.7" fill="#4169e1" fill-opacity=".8" stroke="#4169e1" stroke-opacity=".8" stroke-width="1"/>
<circle cx="371.2" cy="51.2" r="3.7" fill="#4169e1" fill-opacity=".8" stroke="#4169e1" stroke-opacity=".8" stroke-width="1"/>
<circle cx="355.3" cy="85.5" r="3.7" fill="#4169e1" fill-opacity=".8" stroke="#4169e1" stroke-opacity=".8" stroke-width="1"/>
<circle cx="411.9" cy="86.3" r="3.7" fill="#4169e1" fill-opacity=".8" stroke="#4169e1" stroke-opacity=".8" stroke-width="1"/>
<circle cx="352.5" cy="89.3" r="3.7" fill="#4169e1" fill-opacity=".8" stroke="#4169e1" stroke-opacity=".8" stroke-width="1"/>
<circle cx="367.4" cy="97.5" r="3.7" fill="#4169e1" fill-opacity=".8" stroke="#4169e1" stroke-opacity=".8" stroke-width="1"/>
<circle cx="386.1" cy="94.8" r="3.7" fill="#4169e1" fill-opacity=".8" stroke="#4169e1" stroke-opacity=".8" stroke-width="1"/>
<circle cx="458.3" cy="62.9" r="3.7" fill="#4169e1" fill-opacity=".8" stroke="#4169e1" stroke-opacity=".8" stroke-width="1"/>
<circle cx="392.1" cy="100.8" r="3.7" fill="#4169e1" fill-opacity=".8" stroke="#4169e1" stroke-opacity=".8" stroke-width="1"/>
<circle cx="329.6" cy="90.8" r="3.7" fill="#4169e1" fill-opacity=".8" stroke="#4169e1" stroke-opacity=".8" stroke-width="1"/>
<circle cx="365" cy="68.1" r="3.7" fill="#4169e1" fill-opacity=".8" stroke="#4169e1" stroke-opacity=".8" stroke-width="1"/>
<circle cx="359.1" cy="68.4" r="3.7" fill="#4169e1" fill-opacity=".8" stroke="#4169e1" stroke-opacity=".8" stroke-width="1"/>
<circle cx="456.5" cy="60.3" r="3.7" fill="#4169e1" fill-opacity=".8" stroke="#4169e1" stroke-opacity=".8" stroke-width="1"/>
<circle cx="347.8" cy="57" r="3.7" fill="#4169e1" fill-opacity=".8" stroke="#4169e1" stroke-opacity=".8" stroke-width="1"/>
<circle cx="378.3" cy="81.1" r="3.7" fill="#4169e1" fill-opacity=".8" stroke="#4169e1" stroke-opacity=".8" stroke-width="1"/>
<circle cx="401.4" cy="84.8" r="3.7" fill="#4169e1" fill-opacity=".8" stroke="#4169e1" stroke-opacity=".8" stroke-width="1"/>
<circle cx="382" cy="69" r="3.7" fill="#4169e1" fill-opacity=".8" stroke="#4169e1" stroke-opacity=".8" stroke-width="1"/>
<circle cx="373.7" cy="44.1" r="3.7" fill="#4169e1" fill-opacity=".8" stroke="#4169e1" stroke-opacity=".8" stroke-width="1"/>
<circle cx="396.4" cy="46.5" r="3.7" fill="#4169e1" fill-opacity=".8" stroke="#4169e1" stroke-opacity=".8" stroke-width="1"/>
<circle cx="403.5" cy="50.9" r="3.7" fill="#4169e1" fill-opacity=".8" stroke="#4169e1" stroke-opacity=".8" stroke-width="1"/>
<circle cx="430" cy="59.1" r="3.7" fill="#4169e1" fill-opacity=".8" stroke="#4169e1" stroke-opacity=".8" stroke-width="1"/>
<circle cx="443.1" cy="64" r="3.7" fill="#4169e1" fill-opacity=".8" stroke="#4169e1" stroke-opacity=".8" stroke-width="1"/>
<circle cx="436.9" cy="56.6" r="3.7" fill="#4169e1" fill-opacity=".8" stroke="#4169e1" stroke-opacity=".8" stroke-width="1"/>
<circle cx="364.1" cy="59" r="3.7" fill="#4169e1" fill-opacity=".8" stroke="#4169e1" stroke-opacity=".8" stroke-width="1"/>
<circle cx="390.7" cy="107.8" r="3.7" fill="#4169e1" fill-opacity=".8" stroke="#4169e1" stroke-opacity=".8" stroke-width="1"/>
<circle cx="354.8" cy="56.6" r="3.7" fill="#4169e1" fill-opacity=".8" stroke="#4169e1" stroke-opacity=".8" stroke-width="1"/>
<circle cx="452.8" cy="74.8" r="3.7" fill="#4169e1" fill-opacity=".8" stroke="#4169e1" stroke-opacity=".8" stroke-width="1"/>
<circle cx="443.6" cy="94.3" r="3.7" fill="#4169e1" fill-opacity=".8" stroke="#4169e1" stroke-opacity=".8" stroke-width="1"/>
<circle cx="434.5" cy="52.5" r="3.7" fill="#4169e1" fill-opacity=".8" stroke="#4169e1" stroke-opacity=".8" stroke-width="1"/>
<circle cx="343.1" cy="99.8" r="3.7" fill="#4169e1" fill-opacity=".8" stroke="#4169e1" stroke-opacity=".8" stroke-width="1"/>
<circle cx="388.5" cy="103.1" r="3.7" fill="#4169e1" fill-opacity=".8" stroke="#4169e1" stroke-opacity=".8" stroke-width="1"/>
<circle cx="386.2" cy="49.7" r="3.7" fill="#4169e1" fill-opacity=".8" stroke="#4169e1" stroke-opacity=".8" stroke-width="1"/>
<circle cx="392.4" cy="82.3" r="3.7" fill="#4169e1" fill-opacity=".8" stroke="#4169e1" stroke-opacity=".8" stroke-width="1"/>
<circle cx="404" cy="78" r="3.7" fill="#4169e1" fill-opacity=".8" stroke="#4169e1" stroke-opacity=".8" stroke-width="1"/>
<circle cx="394.8" cy="92.5" r="3.7" fill="#4169e1" fill-opacity=".8" stroke="#4169e1" stroke-opacity=".8" stroke-width="1"/>
<circle cx="408.5" cy="58.2" r="3.7" fill="#4169e1" fill-opacity=".8" stroke="#4169e1" stroke-opacity=".8" stroke-width="1"/>
<circle cx="390" cy="84.4" r="3.7" fill="#4169e1" fill-opacity=".8" stroke="#4169e1" stroke-opacity=".8" stroke-width="1"/>
<circle cx="429.5" cy="72.9" r="3.7" fill="#4169e1" fill-opacity=".8" stroke="#4169e1" stroke-opacity=".8" stroke-width="1"/>
<circle cx="361" cy="80.6" r="3.7" fill="#4169e1" fill-opacity=".8" stroke="#4169e1" stroke-opacity=".8" stroke-width="1"/>
<circle cx="358" cy="45.6" r="3.7" fill="#4169e1" fill-opacity=".8" stroke="#4169e1" stroke-opacity=".8" stroke-width="1"/>
<circle cx="433.1" cy="87.8" r="3.7" fill="#4169e1" fill-opacity=".8" stroke="#4169e1" stroke-opacity=".8" stroke-width="1"/>
<circle cx="388.2" cy="77.4" r="3.7" fill="#4169e1" fill-opacity=".8" stroke="#4169e1" stroke-opacity=".8" stroke-width="1"/>
<circle cx="372.4" cy="85.2" r="3.7" fill="#4169e1" fill-opacity=".8" stroke="#4169e1" stroke-opacity=".8" stroke-width="1"/>
<circle cx="443.1" cy="59.8" r="3.7" fill="#4169e1" fill-opacity=".8" stroke="#4169e1" stroke-opacity=".8" stroke-width="1"/>
<circle cx="329.1" cy="89.9" r="3.7" fill="#4169e1" fill-opacity=".8" stroke="#4169e1" stroke-opacity=".8" stroke-width="1"/>
<circle cx="456.3" cy="73" r="3.7" fill="#4169e1" fill-opacity=".8" stroke="#4169e1" stroke-opacity=".8" stroke-width="1"/>
<circle cx="403.3" cy="57.5" r="3.7" fill="#4169e1" fill-opacity=".8" stroke="#4169e1" stroke-opacity=".8" stroke-width="1"/>
<circle cx="440" cy="61.2" r="3.7" fill="#4169e1" fill-opacity=".8" stroke="#4169e1" stroke-opacity=".8" stroke-width="1"/>
<circle cx="435.8" cy="80" r="3.7" fill="#4169e1" fill-opacity=".8" stroke="#4169e1" stroke-opacity=".8" stroke-width="1"/>
<circle cx="400.1" cy="89.8" r="3.7" fill="#4169e1" fill-opacity=".8" stroke="#4169e1" stroke-opacity=".8" stroke-width="1"/>
<circle cx="451.5" cy="91.2" r="3.7" fill="#4169e1" fill-opacity=".8" stroke="#4169e1" stroke-opacity=".8" stroke-width="1"/>
<circle cx="331.2" cy="93.6" r="3.7" fill="#4169e1" fill-opacity=".8" stroke="#4169e1" stroke-opacity=".8" stroke-width="1"/>
<circle cx="425.9" cy="60.6" r="3.7" fill="#4169e1" fill-opacity=".8" stroke="#4169e1" stroke-opacity=".8" stroke-width="1"/>
<circle cx="390.4" cy="59.3" r="3.7" fill="#4169e1" fill-opacity=".8" stroke="#4169e1" stroke-opacity=".8" stroke-width="1"/>
<circle cx="406.4" cy="57.9" r="3.7" fill="#4169e1" fill-opacity=".8" stroke="#4169e1" stroke-opacity=".8" stroke-width="1"/>
<circle cx="395" cy="76.5" r="3.7" fill="#4169e1" fill-opacity=".8" stroke="#4169e1" stroke-opacity=".8" stroke-width="1"/>
<circle cx="368.1" cy="57.1" r="3.7" fill="#4169e1" fill-opacity=".8" stroke="#4169e1" stroke-opacity=".8" stroke-width="1"/>
<circle cx="438.6" cy="87.6" r="3.7" fill="#4169e1" fill-opacity=".8" stroke="#4169e1" stroke-opacity=".8" stroke-width="1"/>
<circle cx="381.5" cy="63.8" r="3.7" fill="#4169e1" fill-opacity=".8" stroke="#4169e1" stroke-opacity=".8" stroke-width="1"/>
<circle cx="460.9" cy="85.5" r="3.7" fill="#4169e1" fill-opacity=".8" stroke="#4169e1" stroke-opacity=".8" stroke-width="1"/>
<circle cx="450.6" cy="82.4" r="3.7" fill="#4169e1" fill-opacity=".8" stroke="#4169e1" stroke-opacity=".8" stroke-width="1"/>
<circle cx="336.6" cy="100.5" r="3.7" fill="#4169e1" fill-opacity=".8" stroke="#4169e1" stroke-opacity=".8" stroke-width="1"/>
<circle cx="446" cy="94.2" r="3.7" fill="#4169e1" fill-opacity=".8" stroke="#4169e1" stroke-opacity=".8" stroke-width="1"/>
<circle cx="424.2" cy="45.1" r="3.7" fill="#4169e1" fill-opacity=".8" stroke="#4169e1" stroke-opacity=".8" stroke-width="1"/>
<circle cx="352.4" cy="93.6" r="3.7" fill="#4169e1" fill-opacity=".8" stroke="#4169e1" stroke-opacity=".8" stroke-width="1"/>
<circle cx="380.4" cy="74.8" r="3.7" fill="#4169e1" fill-opacity=".8" stroke="#4169e1" stroke-opacity=".8" stroke-width="1"/>
<circle cx="417.5" cy="86.6" r="3.7" fill="#4169e1" fill-opacity=".8" stroke="#4169e1" stroke-opacity=".8" stroke-width="1"/>
<circle cx="362.5" cy="88.7" r="3.7" fill="#4169e1" fill-opacity=".8" stroke="#4169e1" stroke-opacity=".8" stroke-width="1"/>
<circle cx="366" cy="77.5" r="3.7" fill="#4169e1" fill-opacity=".8" stroke="#4169e1" stroke-opacity=".8" stroke-width="1"/>
<circle cx="392.5" cy="99.3" r="3.7" fill="#4169e1" fill-opacity=".8" stroke="#4169e1" stroke-opacity=".8" stroke-width="1"/>
<circle cx="353.3" cy="82.2" r="3.7" fill="#4169e1" fill-opacity=".8" stroke="#4169e1" stroke-opacity=".8" stroke-width="1"/>
<circle cx="449.6" cy="76.9" r="3.7" fill="#4169e1" fill-opacity=".8" stroke="#4169e1" stroke-opacity=".8" stroke-width="1"/>
<circle cx="397.7" cy="72.8" r="3.7" fill="#4169e1" fill-opacity=".8" stroke="#4169e1" stroke-opacity=".8" stroke-width="1"/>
<circle cx="365.8" cy="67.1" r="3.7" fill="#4169e1" fill-opacity=".8" stroke="#4169e1" stroke-opacity=".8" stroke-width="1"/>
<circle cx="387.6" cy="60.1" r="3.7" fill="#4169e1" fill-opacity=".8" stroke="#4169e1" stroke-opacity=".8" stroke-width="1"/>
<circle cx="362" cy="77.1" r="3.7" fill="#4169e1" fill-opacity=".8" stroke="#4169e1" stroke-opacity=".8" stroke-width="1"/>
<circle cx="448.3" cy="85.7" r="3.7" fill="#4169e1" fill-opacity=".8" stroke="#4169e1" stroke-opacity=".8" stroke-width="1"/>
<circle cx="406.8" cy="92.1" r="3.7" fill="#4169e1" fill-opacity=".8" stroke="#4169e1" stroke-opacity=".8" stroke-width="1"/>
<circle cx="421.8" cy="60.9" r="3.7" fill="#4169e1" fill-opacity=".8" stroke="#4169e1" stroke-opacity=".8" stroke-width="1"/>
<circle cx="361.1" cy="87.5" r="3.7" fill="#4169e1" fill-opacity=".8" stroke="#4169e1" stroke-opacity=".8" stroke-width="1"/>
<circle cx="382.3" cy="52.3" r="3.7" fill="#4169e1" fill-opacity=".8" stroke="#4169e1" stroke-opacity=".8" stroke-width="1"/>
<circle cx="360.8" cy="81.3" r="3.7" fill="#4169e1" fill-opacity=".8" stroke="#4169e1" stroke-opacity=".8" stroke-width="1"/>
<circle cx="402.8" cy="67.4" r="3.7" fill="#4169e1" fill-opacity=".8" stroke="#4169e1" stroke-opacity=".8" stroke-width="1"/>
<circle cx="339.9" cy="76.5" r="3.7" fill="#4169e1" fill-opacity=".8" stroke="#4169e1" stroke-opacity=".8" stroke-width="1"/>
<circle cx="325.1" cy="91.4" r="3.7" fill="#4169e1" fill-opacity=".8" stroke="#4169e1" stroke-opacity=".8" stroke-width="1"/>
<circle cx="359.3" cy="48.2" r="3.7" fill="#4169e1" fill-opacity=".8" stroke="#4169e1" stroke-opacity=".8" stroke-width="1"/>
<circle cx="434" cy="86.9" r="3.7" fill="#4169e1" fill-opacity=".8" stroke="#4169e1" stroke-opacity=".8" stroke-width="1"/>
<circle cx="443.6" cy="57" r="3.7" fill="#4169e1" fill-opacity=".8" stroke="#4169e1" stroke-opacity=".8" stroke-width="1"/>
<circle cx="368" cy="49.5" r="3.7" fill="#4169e1" fill-opacity=".8" stroke="#4169e1" stroke-opacity=".8" stroke-width="1"/>
<circle cx="331.1" cy="78.1" r="3.7" fill="#4169e1" fill-opacity=".8" stroke="#4169e1" stroke-opacity=".8" stroke-width="1"/>
<circle cx="367.6" cy="73.5" r="3.7" fill="#4169e1" fill-opacity=".8" stroke="#4169e1" stroke-opacity=".8" stroke-width="1"/>
<circle cx="431.3" cy="62.4" r="3.7" fill="#4169e1" fill-opacity=".8" stroke="#4169e1" stroke-opacity=".8" stroke-width="1"/>
<circle cx="360.6" cy="88.3" r="3.7" fill="#4169e1" fill-opacity=".8" stroke="#4169e1" stroke-opacity=".8" stroke-width="1"/>
<circle cx="386.4" cy="89.4" r="3.7" fill="#4169e1" fill-opacity=".8" stroke="#4169e1" stroke-opacity=".8" stroke-width="1"/>
<circle cx="355" cy="95.1" r="3.7" fill="#4169e1" fill-opacity=".8" stroke="#4169e1" stroke-opacity=".8" stroke-width="1"/>
<circle cx="355.3" cy="70.3" r="3.7" fill="#4169e1" fill-opacity=".8" stroke="#4169e1" stroke-opacity=".8" stroke-width="1"/>
<circle cx="325" cy="88.1" r="3.7" fill="#4169e1" fill-opacity=".8" stroke="#4169e1" stroke-opacity=".8" stroke-width="1"/>
<circle cx="364.2" cy="65.6" r="3.7" fill="#4169e1" fill-opacity=".8" stroke="#4169e1" stroke-opacity=".8" stroke-width="1"/>
<circle cx="376.3" cy="99.5" r="3.7" fill="#4169e1" fill-opacity=".8" stroke="#4169e1" stroke-opacity=".8" stroke-width="1"/>
<circle cx="384.9" cy="98.8" r="3.7" fill="#4169e1" fill-opacity=".8" stroke="#4169e1" stroke-opacity=".8" stroke-width="1"/>
<circle cx="361.4" cy="91.9" r="3.7" fill="#4169e1" fill-opacity=".8" stroke="#4169e1" stroke-opacity=".8" stroke-width="1"/>
<circle cx="357" cy="74.5" r="3.7" fill="#4169e1" fill-opacity=".8" stroke="#4169e1" stroke-opacity=".8" stroke-width="1"/>
<circle cx="381.1" cy="58.4" r="3.7" fill="#4169e1" fill-opacity=".8" stroke="#4169e1" stroke-opacity=".8" stroke-width="1"/>
<circle cx="446.8" cy="93.5" r="3.7" fill="#4169e1" fill-opacity=".8" stroke="#4169e1" stroke-opacity=".8" stroke-width="1"/>
<circle cx="370.5" cy="66.4" r="3.7" fill="#4169e1" fill-opacity=".8" stroke="#4169e1" stroke-opacity=".8" stroke-width="1"/>
<circle cx="359.1" cy="45" r="3.7" fill="#4169e1" fill-opacity=".8" stroke="#4169e1" stroke-opacity=".8" stroke-width="1"/>
<circle cx="398.8" cy="91.4" r="3.7" fill="#4169e1" fill-opacity=".8" stroke="#4169e1" stroke-opacity=".8" stroke-width="1"/>
<circle cx="426.5" cy="94.2" r="3.7" fill="#4169e1" fill-opacity=".8" stroke="#4169e1" stroke-opacity=".8" stroke-width="1"/>
<circle cx="339.1" cy="100.8" r="3.7" fill="#4169e1" fill-opacity=".8" stroke="#4169e1" stroke-opacity=".8" stroke-width="1"/>
<circle cx="351.5" cy="58.1" r="3.7" fill="#4169e1" fill-opacity=".8" stroke="#4169e1" stroke-opacity=".8" stroke-width="1"/>
<circle cx="371.6" cy="68.8" r="3.7" fill="#4169e1" fill-opacity=".8" stroke="#4169e1" stroke-opacity=".8" stroke-width="1"/>
<circle cx="356.6" cy="98.5" r="3.7" fill="#4169e1" fill-opacity=".8" stroke="#4169e1" stroke-opacity=".8" stroke-width="1"/>
<circle cx="467" cy="67.1" r="3.7" fill="#4169e1" fill-opacity=".8" stroke="#4169e1" stroke-opacity=".8" stroke-width="1"/>
<circle cx="336.7" cy="83.2" r="3.7" fill="#4169e1" fill-opacity=".8" stroke="#4169e1" stroke-opacity=".8" stroke-width="1"/>
<circle cx="423" cy="54.9" r="3.7" fill="#4169e1" fill-opacity=".8" stroke="#4169e1" stroke-opacity=".8" stroke-width="1"/>
<circle cx="369.3" cy="54.9" r="3.7" fill="#4169e1" fill-opacity=".8" stroke="#4169e1" stroke-opacity=".8" stroke-width="1"/>
<circle cx="382.5" cy="79.9" r="3.7" fill="#4169e1" fill-opacity=".8" stroke="#4169e1" stroke-opacity=".8" stroke-width="1"/>
<circle cx="384.7" cy="60.7" r="3.7" fill="#4169e1" fill-opacity=".8" stroke="#4169e1" stroke-opacity=".8" stroke-width="1"/>
<circle cx="369.4" cy="81.1" r="3.7" fill="#4169e1" fill-opacity=".8" stroke="#4169e1" stroke-opacity=".8" stroke-width="1"/>
<circle cx="377.5" cy="54.5" r="3.7" fill="#4169e1" fill-opacity=".8" stroke="#4169e1" stroke-opacity=".8" stroke-width="1"/>
<circle cx="334.1" cy="85.1" r="3.7" fill="#4169e1" fill-opacity=".8" stroke="#4169e1" stroke-opacity=".8" stroke-width="1"/>
<circle cx="397.5" cy="98.2" r="3.7" fill="#4169e1" fill-opacity=".8" stroke="#4169e1" stroke-opacity=".8" stroke-width="1"/>
<circle cx="381.3" cy="105.4" r="3.7" fill="#4169e1" fill-opacity=".8" stroke="#4169e1" stroke-opacity=".8" stroke-width="1"/>
<circle cx="383.9" cy="101.2" r="3.7" fill="#4169e1" fill-opacity=".8" stroke="#4169e1" stroke-opacity=".8" stroke-width="1"/>
<circle cx="380.6" cy="49.2" r="3.7" fill="#4169e1" fill-opacity=".8" stroke="#4169e1" stroke-opacity=".8" stroke-width="1"/>
<circle cx="408.9" cy="94.8" r="3.7" fill="#4169e1" fill-opacity=".8" stroke="#4169e1" stroke-opacity=".8" stroke-width="1"/>
<circle cx="386.4" cy="82.2" r="3.7" fill="#4169e1" fill-opacity=".8" stroke="#4169e1" stroke-opacity=".8" stroke-width="1"/>
<circle cx="390.6" cy="71.9" r="3.7" fill="#4169e1" fill-opacity=".8" stroke="#4169e1" stroke-opacity=".8" stroke-width="1"/>
<circle cx="392.4" cy="53.2" r="3.7" fill="#4169e1" fill-opacity=".8" stroke="#4169e1" stroke-opacity=".8" stroke-width="1"/>
<circle cx="420.6" cy="46.2" r="3.7" fill="#4169e1" fill-opacity=".8" stroke="#4169e1" stroke-opacity=".8" stroke-width="1"/>
<circle cx="399.6" cy="67.5" r="3.7" fill="#4169e1" fill-opacity=".8" stroke="#4169e1" stroke-opacity=".8" stroke-width="1"/>
<circle cx="397.7" cy="109.2" r="3.7" fill="#4169e1" fill-opacity=".8" stroke="#4169e1" stroke-opacity=".8" stroke-width="1"/>
<circle cx="375.4" cy="94.7" r="3.7" fill="#4169e1" fill-opacity=".8" stroke="#4169e1" stroke-opacity=".8" stroke-width="1"/>
<circle cx="361.5" cy="76.7" r="3.7" fill="#4169e1" fill-opacity=".8" stroke="#4169e1" stroke-opacity=".8" stroke-width="1"/>
<circle cx="403.9" cy="86.1" r="3.7" fill="#4169e1" fill-opacity=".8" stroke="#4169e1" stroke-opacity=".8" stroke-width="1"/>
<circle cx="407.7" cy="82.1" r="3.7" fill="#4169e1" fill-opacity=".8" stroke="#4169e1" stroke-opacity=".8" stroke-width="1"/>
<circle cx="440.8" cy="72.1" r="3.7" fill="#4169e1" fill-opacity=".8" stroke="#4169e1" stroke-opacity=".8" stroke-width="1"/>
<circle cx="424.9" cy="62.8" r="3.7" fill="#4169e1" fill-opacity=".8" stroke="#4169e1" stroke-opacity=".8" stroke-width="1"/>
<circle cx="355.9" cy="87.3" r="3.7" fill="#4169e1" fill-opacity=".8" stroke="#4169e1" stroke-opacity=".8" stroke-width="1"/>
<circle cx="376.4" cy="56.4" r="3.7" fill="#4169e1" fill-opacity=".8" stroke="#4169e1" stroke-opacity=".8" stroke-width="1"/>
<circle cx="352.3" cy="85.2" r="3.7" fill="#4169e1" fill-opacity=".8" stroke="#4169e1" stroke-opacity=".8" stroke-width="1"/>
<circle cx="375.4" cy="86.8" r="3.7" fill="#4169e1" fill-opacity=".8" stroke="#4169e1" stroke-opacity=".8" stroke-width="1"/>
<circle cx="435.9" cy="58.2" r="3.7" fill="#4169e1" fill-opacity=".8" stroke="#4169e1" stroke-opacity=".8" stroke-width="1"/>
<circle cx="416.1" cy="76.8" r="3.7" fill="#4169e1" fill-opacity=".8" stroke="#4169e1" stroke-opacity=".8" stroke-width="1"/>
<circle cx="347.6" cy="62.6" r="3.7" fill="#4169e1" fill-opacity=".8" stroke="#4169e1" stroke-opacity=".8" stroke-width="1"/>
<circle cx="453.4" cy="94" r="3.7" fill="#4169e1" fill-opacity=".8" stroke="#4169e1" stroke-opacity=".8" stroke-width="1"/>
<circle cx="355.7" cy="47.9" r="3.7" fill="#4169e1" fill-opacity=".8" stroke="#4169e1" stroke-opacity=".8" stroke-width="1"/>
<circle cx="432.4" cy="59.5" r="3.7" fill="#4169e1" fill-opacity=".8" stroke="#4169e1" stroke-opacity=".8" stroke-width="1"/>
<circle cx="444.6" cy="78" r="3.7" fill="#4169e1" fill-opacity=".8" stroke="#4169e1" stroke-opacity=".8" stroke-width="1"/>
<circle cx="437.9" cy="63.8" r="3.7" fill="#4169e1" fill-opacity=".8" stroke="#4169e1" stroke-opacity=".8" stroke-width="1"/>
<circle cx="419.6" cy="90.2" r="3.7" fill="#4169e1" fill-opacity=".8" stroke="#4169e1" stroke-opacity=".8" stroke-width="1"/>
<circle cx="394.2" cy="100.8" r="3.7" fill="#4169e1" fill-opacity=".8" stroke="#4169e1" stroke-opacity=".8" stroke-width="1"/>
<circle cx="434.5" cy="81.4" r="3.7" fill="#4169e1" fill-opacity=".8" stroke="#4169e1" stroke-opacity=".8" stroke-width="1"/>
<circle cx="429.4" cy="85.9" r="3.7" fill="#4169e1" fill-opacity=".8" stroke="#4169e1" stroke-opacity=".8" stroke-width="1"/>
<circle cx="330.4" cy="82.8" r="3.7" fill="#4169e1" fill-opacity=".8" stroke="#4169e1" stroke-opacity=".8" stroke-width="1"/>
<circle cx="352.5" cy="48.4" r="3.7" fill="#4169e1" fill-opacity=".8" stroke="#4169e1" stroke-opacity=".8" stroke-width="1"/>
<circle cx="439.7" cy="55.1" r="3.7" fill="#4169e1" fill-opacity=".8" stroke="#4169e1" stroke-opacity=".8" stroke-width="1"/>
<circle cx="364.6" cy="91.8" r="3.7" fill="#4169e1" fill-opacity=".8" stroke="#4169e1" stroke-opacity=".8" stroke-width="1"/>
<circle cx="442.1" cy="65.3" r="3.7" fill="#4169e1" fill-opacity=".8" stroke="#4169e1" stroke-opacity=".8" stroke-width="1"/>
<circle cx="397.7" cy="97.7" r="3.7" fill="#4169e1" fill-opacity=".8" stroke="#4169e1" stroke-opacity=".8" stroke-width="1"/>
<circle cx="430.5" cy="76.2" r="3.7" fill="#4169e1" fill-opacity=".8" stroke="#4169e1" stroke-opacity=".8" stroke-width="1"/>
<circle cx="419.2" cy="65.9" r="3.7" fill="#4169e1" fill-opacity=".8" stroke="#4169e1" stroke-opacity=".8" stroke-width="1"/>
<circle cx="352.6" cy="59.3" r="3.7" fill="#4169e1" fill-opacity=".8" stroke="#4169e1" stroke-opacity=".8" stroke-width="1"/>
<circle cx="392.8" cy="78.6" r="3.7" fill="#4169e1" fill-opacity=".8" stroke="#4169e1" stroke-opacity=".8" stroke-width="1"/>
<circle cx="422.1" cy="65.4" r="3.7" fill="#4169e1" fill-opacity=".8" stroke="#4169e1" stroke-opacity=".8" stroke-width="1"/>
<circle cx="437.2" cy="52.5" r="3.7" fill="#4169e1" fill-opacity=".8" stroke="#4169e1" stroke-opacity=".8" stroke-width="1"/>
<circle cx="411.5" cy="49.4" r="3.7" fill="#4169e1" fill-opacity=".8" stroke="#4169e1" stroke-opacity=".8" stroke-width="1"/>
<circle cx="357.6" cy="54.1" r="3.7" fill="#4169e1" fill-opacity=".8" stroke="#4169e1" stroke-opacity=".8" stroke-width="1"/>
<circle cx="371.6" cy="77.9" r="3.7" fill="#4169e1" fill-opacity=".8" stroke="#4169e1" stroke-opacity=".8" stroke-width="1"/>
<circle cx="445.6" cy="93.1" r="3.7" fill="#4169e1" fill-opacity=".8" stroke="#4169e1" stroke-opacity=".8" stroke-width="1"/>
<circle cx="352.6" cy="68.3" r="3.7" fill="#4169e1" fill-opacity=".8" stroke="#4169e1" stroke-opacity=".8" stroke-width="1"/>
<circle cx="399.1" cy="85.8" r="3.7" fill="#4169e1" fill-opacity=".8" stroke="#4169e1" stroke-opacity=".8" stroke-width="1"/>
<circle cx="387.9" cy="81.6" r="3.7" fill="#4169e1" fill-opacity=".8" stroke="#4169e1" stroke-opacity=".8" stroke-width="1"/>
<circle cx="356.1" cy="92.3" r="3.7" fill="#4169e1" fill-opacity=".8" stroke="#4169e1" stroke-opacity=".8" stroke-width="1"/>
<circle cx="427.4" cy="86.5" r="3.7" fill="#4169e1" fill-opacity=".8" stroke="#4169e1" stroke-opacity=".8" stroke-width="1"/>
<circle cx="386.3" cy="96.6" r="3.7" fill="#4169e1" fill-opacity=".8" stroke="#4169e1" stroke-opacity=".8" stroke-width="1"/>
<circle cx="359.5" cy="70.8" r="3.7" fill="#4169e1" fill-opacity=".8" stroke="#4169e1" stroke-opacity=".8" stroke-width="1"/>
<circle cx="384.7" cy="88.9" r="3.7" fill="#4169e1" fill-opacity=".8" stroke="#4169e1" stroke-opacity=".8" stroke-width="1"/>
<circle cx="381.4" cy="75.6" r="3.7" fill="#4169e1" fill-opacity=".8" stroke="#4169e1" stroke-opacity=".8" stroke-width="1"/>
<circle cx="402" cy="47.6" r="3.7" fill="#4169e1" fill-opacity=".8" stroke="#4169e1" stroke-opacity=".8" stroke-width="1"/>
<circle cx="433.3" cy="77.2" r="3.7" fill="#4169e1" fill-opacity=".8" stroke="#4169e1" stroke-opacity=".8" stroke-width="1"/>
<circle cx="402.4" cy="69.8" r="3.7" fill="#4169e1" fill-opacity=".8" stroke="#4169e1" stroke-opacity=".8" stroke-width="1"/>
<circle cx="430.3" cy="65.7" r="3.7" fill="#4169e1" fill-opacity=".8" stroke="#4169e1" stroke-opacity=".8" stroke-width="1"/>
<circle cx="403.3" cy="56.1" r="3.7" fill="#4169e1" fill-opacity=".8" stroke="#4169e1" stroke-opacity=".8" stroke-width="1"/>
<circle cx="353.5" cy="49.6" r="3.7" fill="#4169e1" fill-opacity=".8" stroke="#4169e1" stroke-opacity=".8" stroke-width="1"/>
<circle cx="408.8" cy="56.6" r="3.7" fill="#4169e1" fill-opacity=".8" stroke="#4169e1" stroke-opacity=".8" stroke-width="1"/>
<circle cx="366.5" cy="79.8" r="3.7" fill="#4169e1" fill-opacity=".8" stroke="#4169e1" stroke-opacity=".8" stroke-width="1"/>
<circle cx="362.3" cy="67.4" r="3.7" fill="#4169e1" fill-opacity=".8" stroke="#4169e1" stroke-opacity=".8" stroke-width="1"/>
<circle cx="358.7" cy="62" r="3.7" fill="#4169e1" fill-opacity=".8" stroke="#4169e1" stroke-opacity=".8" stroke-width="1"/>
<circle cx="420.7" cy="87.8" r="3.7" fill="#4169e1" fill-opacity=".8" stroke="#4169e1" stroke-opacity=".8" stroke-width="1"/>
<circle cx="423.6" cy="58.3" r="3.7" fill="#4169e1" fill-opacity=".8" stroke="#4169e1" stroke-opacity=".8" stroke-width="1"/>
<circle cx="351.2" cy="90.2" r="3.7" fill="#4169e1" fill-opacity=".8" stroke="#4169e1" stroke-opacity=".8" stroke-width="1"/>
<circle cx="389.3" cy="103.9" r="3.7" fill="#4169e1" fill-opacity=".8" stroke="#4169e1" stroke-opacity=".8" stroke-width="1"/>
<circle cx="398.7" cy="79.1" r="3.7" fill="#4169e1" fill-opacity=".8" stroke="#4169e1" stroke-opacity=".8" stroke-width="1"/>
<circle cx="408.9" cy="88.2" r="3.7" fill="#4169e1" fill-opacity=".8" stroke="#4169e1" stroke-opacity=".8" stroke-width="1"/>
<circle cx="331.9" cy="86.2" r="3.7" fill="#4169e1" fill-opacity=".8" stroke="#4169e1" stroke-opacity=".8" stroke-width="1"/>
<circle cx="400.7" cy="75.2" r="3.7" fill="#4169e1" fill-opacity=".8" stroke="#4169e1" stroke-opacity=".8" stroke-width="1"/>
<circle cx="395" cy="78.1" r="3.7" fill="#4169e1" fill-opacity=".8" stroke="#4169e1" stroke-opacity=".8" stroke-width="1"/>
<circle cx="399.6" cy="59.9" r="3.7" fill="#4169e1" fill-opacity=".8" stroke="#4169e1" stroke-opacity=".8" stroke-width="1"/>
<circle cx="367.3" cy="82.5" r="3.7" fill="#4169e1" fill-opacity=".8" stroke="#4169e1" stroke-opacity=".8" stroke-width="1"/>
<circle cx="326.3" cy="92.3" r="3.7" fill="#4169e1" fill-opacity=".8" stroke="#4169e1" stroke-opacity=".8" stroke-width="1"/>
<circle cx="416.2" cy="87.7" r="3.7" fill="#4169e1" fill-opacity=".8" stroke="#4169e1" stroke-opacity=".8" stroke-width="1"/>
<circle cx="416.7" cy="84.7" r="3.7" fill="#4169e1" fill-opacity=".8" stroke="#4169e1" stroke-opacity=".8" stroke-width="1"/>
<circle cx="414.2" cy="89.3" r="3.7" fill="#4169e1" fill-opacity=".8" stroke="#4169e1" stroke-opacity=".8" stroke-width="1"/>
<circle cx="325.8" cy="96.1" r="3.7" fill="#4169e1" fill-opacity=".8" stroke="#4169e1" stroke-opacity=".8" stroke-width="1"/>
<circle cx="408.8" cy="58.9" r="3.7" fill="#4169e1" fill-opacity=".8" stroke="#4169e1" stroke-opacity=".8" stroke-width="1"/>
<circle cx="370.3" cy="71.3" r="3.7" fill="#4169e1" fill-opacity=".8" stroke="#4169e1" stroke-opacity=".8" stroke-width="1"/>
<circle cx="338.8" cy="98.6" r="3.7" fill="#4169e1" fill-opacity=".8" stroke="#4169e1" stroke-opacity=".8" stroke-width="1"/>
<circle cx="395.1" cy="70" r="3.7" fill="#4169e1" fill-opacity=".8" stroke="#4169e1" stroke-opacity=".8" stroke-width="1"/>
<circle cx="428" cy="49.1" r="3.7" fill="#4169e1" fill-opacity=".8" stroke="#4169e1" stroke-opacity=".8" stroke-width="1"/>
<circle cx="433.7" cy="57.7" r="3.7" fill="#4169e1" fill-opacity=".8" stroke="#4169e1" stroke-opacity=".8" stroke-width="1"/>
<circle cx="419.3" cy="91.4" r="3.7" fill="#4169e1" fill-opacity=".8" stroke="#4169e1" stroke-opacity=".8" stroke-width="1"/>
<circle cx="369.1" cy="92.8" r="3.7" fill="#4169e1" fill-opacity=".8" stroke="#4169e1" stroke-opacity=".8" stroke-width="1"/>
<circle cx="378.1" cy="81.7" r="3.7" fill="#4169e1" fill-opacity=".8" stroke="#4169e1" stroke-opacity=".8" stroke-width="1"/>
<circle cx="342.9" cy="97.7" r="3.7" fill="#4169e1" fill-opacity=".8" stroke="#4169e1" stroke-opacity=".8" stroke-width="1"/>
<circle cx="444" cy="81.1" r="3.7" fill="#4169e1" fill-opacity=".8" stroke="#4169e1" stroke-opacity=".8" stroke-width="1"/>
<circle cx="450.7" cy="64.2" r="3.7" fill="#4169e1" fill-opacity=".8" stroke="#4169e1" stroke-opacity=".8" stroke-width="1"/>
<circle cx="428.2" cy="83.6" r="3.7" fill="#4169e1" fill-opacity=".8" stroke="#4169e1" stroke-opacity=".8" stroke-width="1"/>
<circle cx="361.6" cy="70.7" r="3.7" fill="#4169e1" fill-opacity=".8" stroke="#4169e1" stroke-opacity=".8" stroke-width="1"/>
<circle cx="374.8" cy="46.4" r="3.7" fill="#4169e1" fill-opacity=".8" stroke="#4169e1" stroke-opacity=".8" stroke-width="1"/>
<circle cx="351.7" cy="94.3" r="3.7" fill="#4169e1" fill-opacity=".8" stroke="#4169e1" stroke-opacity=".8" stroke-width="1"/>
<circle cx="393.5" cy="55.2" r="3.7" fill="#4169e1" fill-opacity=".8" stroke="#4169e1" stroke-opacity=".8" stroke-width="1"/>
<circle cx="459.8" cy="77.9" r="3.7" fill="#4169e1" fill-opacity=".8" stroke="#4169e1" stroke-opacity=".8" stroke-width="1"/>
<circle cx="430.8" cy="66.4" r="3.7" fill="#4169e1" fill-opacity=".8" stroke="#4169e1" stroke-opacity=".8" stroke-width="1"/>
<circle cx="401.7" cy="51" r="3.7" fill="#4169e1" fill-opacity=".8" stroke="#4169e1" stroke-opacity=".8" stroke-width="1"/>
<circle cx="420" cy="97" r="3.7" fill="#4169e1" fill-opacity=".8" stroke="#4169e1" stroke-opacity=".8" stroke-width="1"/>
<circle cx="396.8" cy="81.1" r="3.7" fill="#4169e1" fill-opacity=".8" stroke="#4169e1" stroke-opacity=".8" stroke-width="1"/>
<circle cx="328.1" cy="80.4" r="3.7" fill="#4169e1" fill-opacity=".8" stroke="#4169e1" stroke-opacity=".8" stroke-width="1"/>
<circle cx="360.6" cy="80.9" r="3.7" fill="#4169e1" fill-opacity=".8" stroke="#4169e1" stroke-opacity=".8" stroke-width="1"/>
<circle cx="425.8" cy="68.6" r="3.7" fill="#4169e1" fill-opacity=".8" stroke="#4169e1" stroke-opacity=".8" stroke-width="1"/>
<circle cx="360.4" cy="65.6" r="3.7" fill="#4169e1" fill-opacity=".8" stroke="#4169e1" stroke-opacity=".8" stroke-width="1"/>
<circle cx="444.2" cy="91.4" r="3.7" fill="#4169e1" fill-opacity=".8" stroke="#4169e1" stroke-opacity=".8" stroke-width="1"/>
<circle cx="426.9" cy="61.8" r="3.7" fill="#4169e1" fill-opacity=".8" stroke="#4169e1" stroke-opacity=".8" stroke-width="1"/>
<circle cx="360.6" cy="49.2" r="3.7" fill="#4169e1" fill-opacity=".8" stroke="#4169e1" stroke-opacity=".8" stroke-width="1"/>
<circle cx="390.7" cy="47.3" r="3.7" fill="#4169e1" fill-opacity=".8" stroke="#4169e1" stroke-opacity=".8" stroke-width="1"/>
<circle cx="419.3" cy="72.9" r="3.7" fill="#4169e1" fill-opacity=".8" stroke="#4169e1" stroke-opacity=".8" stroke-width="1"/>
<circle cx="395.5" cy="85.5" r="3.7" fill="#4169e1" fill-opacity=".8" stroke="#4169e1" stroke-opacity=".8" stroke-width="1"/>
<circle cx="385.1" cy="51.5" r="3.7" fill="#4169e1" fill-opacity=".8" stroke="#4169e1" stroke-opacity=".8" stroke-width="1"/>
<circle cx="397.6" cy="63.2" r="3.7" fill="#4169e1" fill-opacity=".8" stroke="#4169e1" stroke-opacity=".8" stroke-width="1"/>
<circle cx="395.4" cy="60.9" r="3.7" fill="#4169e1" fill-opacity=".8" stroke="#4169e1" stroke-opacity=".8" stroke-width="1"/>
<circle cx="434.8" cy="61.4" r="3.7" fill="#4169e1" fill-opacity=".8" stroke="#4169e1" stroke-opacity=".8" stroke-width="1"/>
<circle cx="410.3" cy="50.2" r="3.7" fill="#4169e1" fill-opacity=".8" stroke="#4169e1" stroke-opacity=".8" stroke-width="1"/>
<circle cx="416.2" cy="76" r="3.7" fill="#4169e1" fill-opacity=".8" stroke="#4169e1" stroke-opacity=".8" stroke-width="1"/>
<circle cx="448.2" cy="82.3" r="3.7" fill="#4169e1" fill-opacity=".8" stroke="#4169e1" stroke-opacity=".8" stroke-width="1"/>
<circle cx="448.1" cy="64.4" r="3.7" fill="#4169e1" fill-opacity=".8" stroke="#4169e1" stroke-opacity=".8" stroke-width="1"/>
<circle cx="463.8" cy="74.6" r="3.7" fill="#4169e1" fill-opacity=".8" stroke="#4169e1" stroke-opacity=".8" stroke-width="1"/>
<circle cx="345.8" cy="67" r="3.7" fill="#4169e1" fill-opacity=".8" stroke="#4169e1" stroke-opacity=".8" stroke-width="1"/>
<circle cx="339.1" cy="91.8" r="3.7" fill="#4169e1" fill-opacity=".8" stroke="#4169e1" stroke-opacity=".8" stroke-width="1"/>
<circle cx="398.2" cy="77.3" r="3.7" fill="#4169e1" fill-opacity=".8" stroke="#4169e1" stroke-opacity=".8" stroke-width="1"/>
<circle cx="355.3" cy="53.4" r="3.7" fill="#4169e1" fill-opacity=".8" stroke="#4169e1" stroke-opacity=".8" stroke-width="1"/>
<circle cx="335.2" cy="90.6" r="3.7" fill="#4169e1" fill-opacity=".8" stroke="#4169e1" stroke-opacity=".8" stroke-width="1"/>
<circle cx="339.4" cy="75.8" r="3.7" fill="#4169e1" fill-opacity=".8" stroke="#4169e1" stroke-opacity=".8" stroke-width="1"/>
<circle cx="381.4" cy="70.6" r="3.7" fill="#4169e1" fill-opacity=".8" stroke="#4169e1" stroke-opacity=".8" stroke-width="1"/>
<circle cx="442.8" cy="64.7" r="3.7" fill="#4169e1" fill-opacity=".8" stroke="#4169e1" stroke-opacity=".8" stroke-width="1"/>
<circle cx="328.5" cy="77.6" r="3.7" fill="#4169e1" fill-opacity=".8" stroke="#4169e1" stroke-opacity=".8" stroke-width="1"/>
<circle cx="377.6" cy="78.5" r="3.7" fill="#4169e1" fill-opacity=".8" stroke="#4169e1" stroke-opacity=".8" stroke-width="1"/>
<circle cx="325.4" cy="86.5" r="3.7" fill="#4169e1" fill-opacity=".8" stroke="#4169e1" stroke-opacity=".8" stroke-width="1"/>
<circle cx="418.2" cy="58.3" r="3.7" fill="#4169e1" fill-opacity=".8" stroke="#4169e1" stroke-opacity=".8" stroke-width="1"/>
<circle cx="368.3" cy="86.9" r="3.7" fill="#4169e1" fill-opacity=".8" stroke="#4169e1" stroke-opacity=".8" stroke-width="1"/>
<circle cx="362.4" cy="73.9" r="3.7" fill="#4169e1" fill-opacity=".8" stroke="#4169e1" stroke-opacity=".8" stroke-width="1"/>
<circle cx="366.4" cy="69.6" r="3.7" fill="#4169e1" fill-opacity=".8" stroke="#4169e1" stroke-opacity=".8" stroke-width="1"/>
<circle cx="410.1" cy="87.1" r="3.7" fill="#4169e1" fill-opacity=".8" stroke="#4169e1" stroke-opacity=".8" stroke-width="1"/>
<circle cx="416.8" cy="74.1" r="3.7" fill="#4169e1" fill-opacity=".8" stroke="#4169e1" stroke-opacity=".8" stroke-width="1"/>
<circle cx="380.5" cy="82.5" r="3.7" fill="#4169e1" fill-opacity=".8" stroke="#4169e1" stroke-opacity=".8" stroke-width="1"/>
<circle cx="408" cy="75.7" r="3.7" fill="#4169e1" fill-opacity=".8" stroke="#4169e1" stroke-opacity=".8" stroke-width="1"/>
<circle cx="381.3" cy="72" r="3.7" fill="#4169e1" fill-opacity=".8" stroke="#4169e1" stroke-opacity=".8" stroke-width="1"/>
<circle cx="426.7" cy="84.7" r="3.7" fill="#4169e1" fill-opacity=".8" stroke="#4169e1" stroke-opacity=".8" stroke-width="1"/>
<circle cx="401.8" cy="93.5" r="3.7" fill="#4169e1" fill-opacity=".8" stroke="#4169e1" stroke-opacity=".8" stroke-width="1"/>
<circle cx="395.1" cy="96.8" r="3.7" fill="#4169e1" fill-opacity=".8" stroke="#4169e1" stroke-opacity=".8" stroke-width="1"/>
<circle cx="412.6" cy="76.1" r="3.7" fill="#4169e1" fill-opacity=".8" stroke="#4169e1" stroke-opacity=".8" stroke-width="1"/>
<circle cx="386" cy="96.7" r="3.7" fill="#4169e1" fill-opacity=".8" stroke="#4169e1" stroke-opacity=".8" stroke-width="1"/>
<circle cx="380" cy="72.9" r="3.7" fill="#4169e1" fill-opacity=".8" stroke="#4169e1" stroke-opacity=".8" stroke-width="1"/>
<circle cx="366.3" cy="68.4" r="3.7" fill="#4169e1" fill-opacity=".8" stroke="#4169e1" stroke-opacity=".8" stroke-width="1"/>
<circle cx="370.9" cy="97" r="3.7" fill="#4169e1" fill-opacity=".8" stroke="#4169e1" stroke-opacity=".8" stroke-width="1"/>
<circle cx="390.2" cy="53.6" r="3.7" fill="#4169e1" fill-opacity=".8" stroke="#4169e1" stroke-opacity=".8" stroke-width="1"/>
<circle cx="465.4" cy="63.6" r="3.7" fill="#4169e1" fill-opacity=".8" stroke="#4169e1" stroke-opacity=".8" stroke-width="1"/>
<circle cx="352.3" cy="71" r="3.7" fill="#4169e1" fill-opacity=".8" stroke="#4169e1" stroke-opacity=".8" stroke-width="1"/>
<circle cx="398.6" cy="106.6" r="3.7" fill="#4169e1" fill-opacity=".8" stroke="#4169e1" stroke-opacity=".8" stroke-width="1"/>
<circle cx="401.8" cy="77.5" r="3.7" fill="#4169e1" fill-opacity=".8" stroke="#4169e1" stroke-opacity=".8" stroke-width="1"/>
<circle cx="376.5" cy="83.1" r="3.7" fill="#4169e1" fill-opacity=".8" stroke="#4169e1" stroke-opacity=".8" stroke-width="1"/>
<circle cx="426.9" cy="78.1" r="3.7" fill="#4169e1" fill-opacity=".8" stroke="#4169e1" stroke-opacity=".8" stroke-width="1"/>
<circle cx="389.5" cy="85.3" r="3.7" fill="#4169e1" fill-opacity=".8" stroke="#4169e1" stroke-opacity=".8" stroke-width="1"/>
<circle cx="461.3" cy="90" r="3.7" fill="#4169e1" fill-opacity=".8" stroke="#4169e1" stroke-opacity=".8" stroke-width="1"/>
<circle cx="386.5" cy="51.6" r="3.7" fill="#4169e1" fill-opacity=".8" stroke="#4169e1" stroke-opacity=".8" stroke-width="1"/>
<circle cx="348.8" cy="85.7" r="3.7" fill="#4169e1" fill-opacity=".8" stroke="#4169e1" stroke-opacity=".8" stroke-width="1"/>
<circle cx="444.4" cy="62.4" r="3.7" fill="#4169e1" fill-opacity=".8" stroke="#4169e1" stroke-opacity=".8" stroke-width="1"/>
<circle cx="412.6" cy="88.4" r="3.7" fill="#4169e1" fill-opacity=".8" stroke="#4169e1" stroke-opacity=".8" stroke-width="1"/>
<circle cx="385" cy="49" r="3.7" fill="#4169e1" fill-opacity=".8" stroke="#4169e1" stroke-opacity=".8" stroke-width="1"/>
<circle cx="441.8" cy="63.5" r="3.7" fill="#4169e1" fill-opacity=".8" stroke="#4169e1" stroke-opacity=".8" stroke-width="1"/>
<circle cx="346.8" cy="59.5" r="3.7" fill="#4169e1" fill-opacity=".8" stroke="#4169e1" stroke-opacity=".8" stroke-width="1"/>
<circle cx="391.1" cy="68.1" r="3.7" fill="#4169e1" fill-opacity=".8" stroke="#4169e1" stroke-opacity=".8" stroke-width="1"/>
<circle cx="389.5" cy="85" r="3.7" fill="#4169e1" fill-opacity=".8" stroke="#4169e1" stroke-opacity=".8" stroke-width="1"/>
<circle cx="369.7" cy="105" r="3.7" fill="#4169e1" fill-opacity=".8" stroke="#4169e1" stroke-opacity=".8" stroke-width="1"/>
<circle cx="381.6" cy="92" r="3.7" fill="#4169e1" fill-opacity=".8" stroke="#4169e1" stroke-opacity=".8" stroke-width="1"/>
<circle cx="445.3" cy="57.8" r="3.7" fill="#4169e1" fill-opacity=".8" stroke="#4169e1" stroke-opacity=".8" stroke-width="1"/>
<circle cx="338.2" cy="78.7" r="3.7" fill="#4169e1" fill-opacity=".8" stroke="#4169e1" stroke-opacity=".8" stroke-width="1"/>
<circle cx="350.2" cy="60.7" r="3.7" fill="#4169e1" fill-opacity=".8" stroke="#4169e1" stroke-opacity=".8" stroke-width="1"/>
<circle cx="390" cy="100.5" r="3.7" fill="#4169e1" fill-opacity=".8" stroke="#4169e1" stroke-opacity=".8" stroke-width="1"/>
<circle cx="355.9" cy="72.9" r="3.7" fill="#4169e1" fill-opacity=".8" stroke="#4169e1" stroke-opacity=".8" stroke-width="1"/>
<circle cx="358.9" cy="84.1" r="3.7" fill="#4169e1" fill-opacity=".8" stroke="#4169e1" stroke-opacity=".8" stroke-width="1"/>
<circle cx="441.9" cy="68" r="3.7" fill="#4169e1" fill-opacity=".8" stroke="#4169e1" stroke-opacity=".8" stroke-width="1"/>
<circle cx="369.1" cy="68.4" r="3.7" fill="#4169e1" fill-opacity=".8" stroke="#4169e1" stroke-opacity=".8" stroke-width="1"/>
<circle cx="424.7" cy="48.1" r="3.7" fill="#4169e1" fill-opacity=".8" stroke="#4169e1" stroke-opacity=".8" stroke-width="1"/>
<circle cx="399.1" cy="61.7" r="3.7" fill="#4169e1" fill-opacity=".8" stroke="#4169e1" stroke-opacity=".8" stroke-width="1"/>
<circle cx="383.7" cy="105.7" r="3.7" fill="#4169e1" fill-opacity=".8" stroke="#4169e1" stroke-opacity=".8" stroke-width="1"/>
<circle cx="324.7" cy="89.2" r="3.7" fill="#4169e1" fill-opacity=".8" stroke="#4169e1" stroke-opacity=".8" stroke-width="1"/>
<circle cx="424.1" cy="90.6" r="3.7" fill="#4169e1" fill-opacity=".8" stroke="#4169e1" stroke-opacity=".8" stroke-width="1"/>
<circle cx="348.7" cy="48.6" r="3.7" fill="#4169e1" fill-opacity=".8" stroke="#4169e1" stroke-opacity=".8" stroke-width="1"/>
<circle cx="351.3" cy="62.1" r="3.7" fill="#4169e1" fill-opacity=".8" stroke="#4169e1" stroke-opacity=".8" stroke-width="1"/>
<circle cx="348.4" cy="100.7" r="3.7" fill="#4169e1" fill-opacity=".8" stroke="#4169e1" stroke-opacity=".8" stroke-width="1"/>
<circle cx="358.6" cy="48.3" r="3.7" fill="#4169e1" fill-opacity=".8" stroke="#4169e1" stroke-opacity=".8" stroke-width="1"/>
<circle cx="429.8" cy="68.6" r="3.7" fill="#4169e1" fill-opacity=".8" stroke="#4169e1" stroke-opacity=".8" stroke-width="1"/>
<circle cx="364.4" cy="46.8" r="3.7" fill="#4169e1" fill-opacity=".8" stroke="#4169e1" stroke-opacity=".8" stroke-width="1"/>
<circle cx="419.2" cy="72.9" r="3.7" fill="#4169e1" fill-opacity=".8" stroke="#4169e1" stroke-opacity=".8" stroke-width="1"/>
<circle cx="361.3" cy="79.6" r="3.7" fill="#4169e1" fill-opacity=".8" stroke="#4169e1" stroke-opacity=".8" stroke-width="1"/>
<circle cx="405.9" cy="58.3" r="3.7" fill="#4169e1" fill-opacity=".8" stroke="#4169e1" stroke-opacity=".8" stroke-width="1"/>
<circle cx="369.1" cy="50.1" r="3.7" fill="#4169e1" fill-opacity=".8" stroke="#4169e1" stroke-opacity=".8" stroke-width="1"/>
<circle cx="357.6" cy="57.7" r="3.7" fill="#4169e1" fill-opacity=".8" stroke="#4169e1" stroke-opacity=".8" stroke-width="1"/>
<circle cx="448.8" cy="79.8" r="3.7" fill="#4169e1" fill-opacity=".8" stroke="#4169e1" stroke-opacity=".8" stroke-width="1"/>
<circle cx="392.9" cy="95.5" r="3.7" fill="#4169e1" fill-opacity=".8" stroke="#4169e1" stroke-opacity=".8" stroke-width="1"/>
<circle cx="430.9" cy="72.6" r="3.7" fill="#4169e1" fill-opacity=".8" stroke="#4169e1" stroke-opacity=".8" stroke-width="1"/>
<circle cx="409.1" cy="48.1" r="3.7" fill="#4169e1" fill-opacity=".8" stroke="#4169e1" stroke-opacity=".8" stroke-width="1"/>
<circle cx="421.8" cy="85.5" r="3.7" fill="#4169e1" fill-opacity=".8" stroke="#4169e1" stroke-opacity=".8" stroke-width="1"/>
<circle cx="359.7" cy="58" r="3.7" fill="#4169e1" fill-opacity=".8" stroke="#4169e1" stroke-opacity=".8" stroke-width="1"/>
<circle cx="437.3" cy="63.8" r="3.7" fill="#4169e1" fill-opacity=".8" stroke="#4169e1" stroke-opacity=".8" stroke-width="1"/>
<circle cx="326.5" cy="81.1" r="3.7" fill="#4169e1" fill-opacity=".8" stroke="#4169e1" stroke-opacity=".8" stroke-width="1"/>
<circle cx="398.1" cy="76.3" r="3.7" fill="#4169e1" fill-opacity=".8" stroke="#4169e1" stroke-opacity=".8" stroke-width="1"/>
<circle cx="428.7" cy="52.1" r="3.7" fill="#4169e1" fill-opacity=".8" stroke="#4169e1" stroke-opacity=".8" stroke-width="1"/>
<circle cx="389.4" cy="54" r="3.7" fill="#4169e1" fill-opacity=".8" stroke="#4169e1" stroke-opacity=".8" stroke-width="1"/>
<circle cx="387.2" cy="60.7" r="3.7" fill="#4169e1" fill-opacity=".8" stroke="#4169e1" stroke-opacity=".8" stroke-width="1"/>
<circle cx="386.6" cy="64.7" r="3.7" fill="#4169e1" fill-opacity=".8" stroke="#4169e1" stroke-opacity=".8" stroke-width="1"/>
<circle cx="346" cy="61.6" r="3.7" fill="#4169e1" fill-opacity=".8" stroke="#4169e1" stroke-opacity=".8" stroke-width="1"/>
<circle cx="350.9" cy="46.4" r="3.7" fill="#4169e1" fill-opacity=".8" stroke="#4169e1" stroke-opacity=".8" stroke-width="1"/>
<circle cx="426.9" cy="84.2" r="3.7" fill="#4169e1" fill-opacity=".8" stroke="#4169e1" stroke-opacity=".8" stroke-width="1"/>
<circle cx="422.3" cy="61.9" r="3.7" fill="#4169e1" fill-opacity=".8" stroke="#4169e1" stroke-opacity=".8" stroke-width="1"/>
<circle cx="427.2" cy="72.5" r="3.7" fill="#4169e1" fill-opacity=".8" stroke="#4169e1" stroke-opacity=".8" stroke-width="1"/>
<circle cx="385.8" cy="78.5" r="3.7" fill="#4169e1" fill-opacity=".8" stroke="#4169e1" stroke-opacity=".8" stroke-width="1"/>
<circle cx="335" cy="78.5" r="3.7" fill="#4169e1" fill-opacity=".8" stroke="#4169e1" stroke-opacity=".8" stroke-width="1"/>
<circle cx="355.8" cy="81.5" r="3.7" fill="#4169e1" fill-opacity=".8" stroke="#4169e1" stroke-opacity=".8" stroke-width="1"/>
<circle cx="389.4" cy="102.5" r="3.7" fill="#4169e1" fill-opacity=".8" stroke="#4169e1" stroke-opacity=".8" stroke-width="1"/>
<circle cx="409" cy="96.1" r="3.7" fill="#4169e1" fill-opacity=".8" stroke="#4169e1" stroke-opacity=".8" stroke-width="1"/>
<circle cx="413.9" cy="55.6" r="3.7" fill="#4169e1" fill-opacity=".8" stroke="#4169e1" stroke-opacity=".8" stroke-width="1"/>
<circle cx="437.8" cy="64.9" r="3.7" fill="#4169e1" fill-opacity=".8" stroke="#4169e1" stroke-opacity=".8" stroke-width="1"/>
<circle cx="406.7" cy="98.1" r="3.7" fill="#4169e1" fill-opacity=".8" stroke="#4169e1" stroke-opacity=".8" stroke-width="1"/>
<circle cx="350.5" cy="72.5" r="3.7" fill="#4169e1" fill-opacity=".8" stroke="#4169e1" stroke-opacity=".8" stroke-width="1"/>
<circle cx="337.4" cy="97.9" r="3.7" fill="#4169e1" fill-opacity=".8" stroke="#4169e1" stroke-opacity=".8" stroke-width="1"/>
<circle cx="405.1" cy="89.9" r="3.7" fill="#4169e1" fill-opacity=".8" stroke="#4169e1" stroke-opacity=".8" stroke-width="1"/>
<circle cx="449.3" cy="89.2" r="3.7" fill="#4169e1" fill-opacity=".8" stroke="#4169e1" stroke-opacity=".8" stroke-width="1"/>
<circle cx="372" cy="55.9" r="3.7" fill="#4169e1" fill-opacity=".8" stroke="#4169e1" stroke-opacity=".8" stroke-width="1"/>
<circle cx="377" cy="74" r="3.7" fill="#4169e1" fill-opacity=".8" stroke="#4169e1" stroke-opacity=".8" stroke-width="1"/>
<circle cx="343" cy="88.6" r="3.7" fill="#4169e1" fill-opacity=".8" stroke="#4169e1" stroke-opacity=".8" stroke-width="1"/>
<circle cx="408.6" cy="95.8" r="3.7" fill="#4169e1" fill-opacity=".8" stroke="#4169e1" stroke-opacity=".8" stroke-width="1"/>
<circle cx="420" cy="86" r="3.7" fill="#4169e1" fill-opacity=".8" stroke="#4169e1" stroke-opacity=".8" stroke-width="1"/>
<circle cx="427.7" cy="62.2" r="3.7" fill="#4169e1" fill-opacity=".8" stroke="#4169e1" stroke-opacity=".8" stroke-width="1"/>
<circle cx="400.4" cy="86" r="3.7" fill="#4169e1" fill-opacity=".8" stroke="#4169e1" stroke-opacity=".8" stroke-width="1"/>
<circle cx="378" cy="57.8" r="3.7" fill="#4169e1" fill-opacity=".8" stroke="#4169e1" stroke-opacity=".8" stroke-width="1"/>
<circle cx="390.4" cy="81.2" r="3.7" fill="#4169e1" fill-opacity=".8" stroke="#4169e1" stroke-opacity=".8" stroke-width="1"/>
<circle cx="368.7" cy="92.6" r="3.7" fill="#4169e1" fill-opacity=".8" stroke="#4169e1" stroke-opacity=".8" stroke-width="1"/>
<circle cx="412.2" cy="46.1" r="3.7" fill="#4169e1" fill-opacity=".8" stroke="#4169e1" stroke-opacity=".8" stroke-width="1"/>
<circle cx="346" cy="59.6" r="3.7" fill="#4169e1" fill-opacity=".8" stroke="#4169e1" stroke-opacity=".8" stroke-width="1"/>
<circle cx="422.4" cy="54.5" r="3.7" fill="#4169e1" fill-opacity=".8" stroke="#4169e1" stroke-opacity=".8" stroke-width="1"/>
<circle cx="415" cy="46" r="3.7" fill="#4169e1" fill-opacity=".8" stroke="#4169e1" stroke-opacity=".8" stroke-width="1"/>
<circle cx="373.9" cy="50.1" r="3.7" fill="#4169e1" fill-opacity=".8" stroke="#4169e1" stroke-opacity=".8" stroke-width="1"/>
<circle cx="371.6" cy="94.3" r="3.7" fill="#4169e1" fill-opacity=".8" stroke="#4169e1" stroke-opacity=".8" stroke-width="1"/>
<circle cx="427.3" cy="64.6" r="3.7" fill="#4169e1" fill-opacity=".8" stroke="#4169e1" stroke-opacity=".8" stroke-width="1"/>
<circle cx="414.5" cy="58.8" r="3.7" fill="#4169e1" fill-opacity=".8" stroke="#4169e1" stroke-opacity=".8" stroke-width="1"/>
<circle cx="417" cy="92.4" r="3.7" fill="#4169e1" fill-opacity=".8" stroke="#4169e1" stroke-opacity=".8" stroke-width="1"/>
<circle cx="405.1" cy="82.7" r="3.7" fill="#4169e1" fill-opacity=".8" stroke="#4169e1" stroke-opacity=".8" stroke-width="1"/>
<circle cx="437.1" cy="58.9" r="3.7" fill="#4169e1" fill-opacity=".8" stroke="#4169e1" stroke-opacity=".8" stroke-width="1"/>
<circle cx="442.6" cy="62.6" r="3.7" fill="#4169e1" fill-opacity=".8" stroke="#4169e1" stroke-opacity=".8" stroke-width="1"/>
<circle cx="391.6" cy="60.3" r="3.7" fill="#4169e1" fill-opacity=".8" stroke="#4169e1" stroke-opacity=".8" stroke-width="1"/>
<circle cx="395.2" cy="87.5" r="3.7" fill="#4169e1" fill-opacity=".8" stroke="#4169e1" stroke-opacity=".8" stroke-width="1"/>
<circle cx="329.5" cy="76.4" r="3.7" fill="#4169e1" fill-opacity=".8" stroke="#4169e1" stroke-opacity=".8" stroke-width="1"/>
<circle cx="348" cy="93.4" r="3.7" fill="#4169e1" fill-opacity=".8" stroke="#4169e1" stroke-opacity=".8" stroke-width="1"/>
<circle cx="398.8" cy="86.1" r="3.7" fill="#4169e1" fill-opacity=".8" stroke="#4169e1" stroke-opacity=".8" stroke-width="1"/>
<circle cx="392.7" cy="63.6" r="3.7" fill="#4169e1" fill-opacity=".8" stroke="#4169e1" stroke-opacity=".8" stroke-width="1"/>
<circle cx="422" cy="69.2" r="3.7" fill="#4169e1" fill-opacity=".8" stroke="#4169e1" stroke-opacity=".8" stroke-width="1"/>
<circle cx="419.1" cy="56.4" r="3.7" fill="#4169e1" fill-opacity=".8" stroke="#4169e1" stroke-opacity=".8" stroke-width="1"/>
<circle cx="352.1" cy="95" r="3.7" fill="#4169e1" fill-opacity=".8" stroke="#4169e1" stroke-opacity=".8" stroke-width="1"/>
<circle cx="410" cy="51.6" r="3.7" fill="#4169e1" fill-opacity=".8" stroke="#4169e1" stroke-opacity=".8" stroke-width="1"/>
<circle cx="362.2" cy="94.4" r="3.7" fill="#4169e1" fill-opacity=".8" stroke="#4169e1" stroke-opacity=".8" stroke-width="1"/>
<circle cx="427.9" cy="83.3" r="3.7" fill="#4169e1" fill-opacity=".8" stroke="#4169e1" stroke-opacity=".8" stroke-width="1"/>
<circle cx="459.6" cy="66.2" r="3.7" fill="#4169e1" fill-opacity=".8" stroke="#4169e1" stroke-opacity=".8" stroke-width="1"/>
<circle cx="346.7" cy="89.5" r="3.7" fill="#4169e1" fill-opacity=".8" stroke="#4169e1" stroke-opacity=".8" stroke-width="1"/>
<circle cx="445.2" cy="89.9" r="3.7" fill="#4169e1" fill-opacity=".8" stroke="#4169e1" stroke-opacity=".8" stroke-width="1"/>
<circle cx="397" cy="50.1" r="3.7" fill="#4169e1" fill-opacity=".8" stroke="#4169e1" stroke-opacity=".8" stroke-width="1"/>
<circle cx="399.1" cy="48.4" r="3.7" fill="#4169e1" fill-opacity=".8" stroke="#4169e1" stroke-opacity=".8" stroke-width="1"/>
<circle cx="435.6" cy="60" r="3.7" fill="#4169e1" fill-opacity=".8" stroke="#4169e1" stroke-opacity=".8" stroke-width="1"/>
<circle cx="407.9" cy="66.4" r="3.7" fill="#4169e1" fill-opacity=".8" stroke="#4169e1" stroke-opacity=".8" stroke-width="1"/>
<circle cx="406.7" cy="90" r="3.7" fill="#4169e1" fill-opacity=".8" stroke="#4169e1" stroke-opacity=".8" stroke-width="1"/>
<circle cx="433.4" cy="69" r="3.7" fill="#4169e1" fill-opacity=".8" stroke="#4169e1" stroke-opacity=".8" stroke-width="1"/>
<circle cx="380.9" cy="69.8" r="3.7" fill="#4169e1" fill-opacity=".8" stroke="#4169e1" stroke-opacity=".8" stroke-width="1"/>
<circle cx="358" cy="54.6" r="3.7" fill="#4169e1" fill-opacity=".8" stroke="#4169e1" stroke-opacity=".8" stroke-width="1"/>
<circle cx="327.8" cy="90.3" r="3.7" fill="#4169e1" fill-opacity=".8" stroke="#4169e1" stroke-opacity=".8" stroke-width="1"/>
<circle cx="454.8" cy="77" r="3.7" fill="#4169e1" fill-opacity=".8" stroke="#4169e1" stroke-opacity=".8" stroke-width="1"/>
<circle cx="379.9" cy="91.6" r="3.7" fill="#4169e1" fill-opacity=".8" stroke="#4169e1" stroke-opacity=".8" stroke-width="1"/>
<circle cx="416.8" cy="89.1" r="3.7" fill="#4169e1" fill-opacity=".8" stroke="#4169e1" stroke-opacity=".8" stroke-width="1"/>
<circle cx="405.8" cy="56.4" r="3.7" fill="#4169e1" fill-opacity=".8" stroke="#4169e1" stroke-opacity=".8" stroke-width="1"/>
<circle cx="402.5" cy="74.6" r="3.7" fill="#4169e1" fill-opacity=".8" stroke="#4169e1" stroke-opacity=".8" stroke-width="1"/>
<circle cx="402.8" cy="78.3" r="3.7" fill="#4169e1" fill-opacity=".8" stroke="#4169e1" stroke-opacity=".8" stroke-width="1"/>
<circle cx="392.7" cy="86.4" r="3.7" fill="#4169e1" fill-opacity=".8" stroke="#4169e1" stroke-opacity=".8" stroke-width="1"/>
<circle cx="446.9" cy="77.8" r="3.7" fill="#4169e1" fill-opacity=".8" stroke="#4169e1" stroke-opacity=".8" stroke-width="1"/>
<circle cx="429.8" cy="72.7" r="3.7" fill="#4169e1" fill-opacity=".8" stroke="#4169e1" stroke-opacity=".8" stroke-width="1"/>
<circle cx="427.5" cy="66.7" r="3.7" fill="#4169e1" fill-opacity=".8" stroke="#4169e1" stroke-opacity=".8" stroke-width="1"/>
<circle cx="433.5" cy="60.1" r="3.7" fill="#4169e1" fill-opacity=".8" stroke="#4169e1" stroke-opacity=".8" stroke-width="1"/>
<circle cx="351.9" cy="70.8" r="3.7" fill="#4169e1" fill-opacity=".8" stroke="#4169e1" stroke-opacity=".8" stroke-width="1"/>
<circle cx="389.9" cy="66.7" r="3.7" fill="#4169e1" fill-opacity=".8" stroke="#4169e1" stroke-opacity=".8" stroke-width="1"/>
<circle cx="380.9" cy="82" r="3.7" fill="#4169e1" fill-opacity=".8" stroke="#4169e1" stroke-opacity=".8" stroke-width="1"/>
<circle cx="378.8" cy="88.2" r="3.7" fill="#4169e1" fill-opacity=".8" stroke="#4169e1" stroke-opacity=".8" stroke-width="1"/>
<circle cx="403.1" cy="76.1" r="3.7" fill="#4169e1" fill-opacity=".8" stroke="#4169e1" stroke-opacity=".8" stroke-width="1"/>
<circle cx="324" cy="83" r="3.7" fill="#4169e1" fill-opacity=".8" stroke="#4169e1" stroke-opacity=".8" stroke-width="1"/>
<circle cx="460.7" cy="72" r="3.7" fill="#4169e1" fill-opacity=".8" stroke="#4169e1" stroke-opacity=".8" stroke-width="1"/>
<circle cx="425.9" cy="93.6" r="3.7" fill="#4169e1" fill-opacity=".8" stroke="#4169e1" stroke-opacity=".8" stroke-width="1"/>
<circle cx="354.9" cy="45.9" r="3.7" fill="#4169e1" fill-opacity=".8" stroke="#4169e1" stroke-opacity=".8" stroke-width="1"/>
<circle cx="328.7" cy="89.3" r="3.7" fill="#4169e1" fill-opacity=".8" stroke="#4169e1" stroke-opacity=".8" stroke-width="1"/>
<circle cx="361.5" cy="62.8" r="3.7" fill="#4169e1" fill-opacity=".8" stroke="#4169e1" stroke-opacity=".8" stroke-width="1"/>
<circle cx="368.1" cy="102.7" r="3.7" fill="#4169e1" fill-opacity=".8" stroke="#4169e1" stroke-opacity=".8" stroke-width="1"/>
<circle cx="404.8" cy="67.2" r="3.7" fill="#4169e1" fill-opacity=".8" stroke="#4169e1" stroke-opacity=".8" stroke-width="1"/>
<circle cx="404.2" cy="69.7" r="3.7" fill="#4169e1" fill-opacity=".8" stroke="#4169e1" stroke-opacity=".8" stroke-width="1"/>
<circle cx="366.1" cy="91.5" r="3.7" fill="#4169e1" fill-opacity=".8" stroke="#4169e1" stroke-opacity=".8" stroke-width="1"/>
<circle cx="388.5" cy="86.3" r="3.7" fill="#4169e1" fill-opacity=".8" stroke="#4169e1" stroke-opacity=".8" stroke-width="1"/>
<circle cx="408.6" cy="98" r="3.7" fill="#4169e1" fill-opacity=".8" stroke="#4169e1" stroke-opacity=".8" stroke-width="1"/>
<circle cx="426.6" cy="61.5" r="3.7" fill="#4169e1" fill-opacity=".8" stroke="#4169e1" stroke-opacity=".8" stroke-width="1"/>
<circle cx="335" cy="96.8" r="3.7" fill="#4169e1" fill-opacity=".8" stroke="#4169e1" stroke-opacity=".8" stroke-width="1"/>
<circle cx="428.4" cy="51.4" r="3.7" fill="#4169e1" fill-opacity=".8" stroke="#4169e1" stroke-opacity=".8" stroke-width="1"/>
<circle cx="370.4" cy="80.7" r="3.7" fill="#4169e1" fill-opacity=".8" stroke="#4169e1" stroke-opacity=".8" stroke-width="1"/>
<circle cx="421.2" cy="56.4" r="3.7" fill="#4169e1" fill-opacity=".8" stroke="#4169e1" stroke-opacity=".8" stroke-width="1"/>
<circle cx="387.9" cy="89.2" r="3.7" fill="#4169e1" fill-opacity=".8" stroke="#4169e1" stroke-opacity=".8" stroke-width="1"/>
<circle cx="403.2" cy="61.2" r="3.7" fill="#4169e1" fill-opacity=".8" stroke="#4169e1" stroke-opacity=".8" stroke-width="1"/>
<circle cx="396.6" cy="102.5" r="3.7" fill="#4169e1" fill-opacity=".8" stroke="#4169e1" stroke-opacity=".8" stroke-width="1"/>
<circle cx="325.1" cy="83.4" r="3.7" fill="#4169e1" fill-opacity=".8" stroke="#4169e1" stroke-opacity=".8" stroke-width="1"/>
<circle cx="359.7" cy="35.8" r="3.7" fill="#4169e1" fill-opacity=".8" stroke="#4169e1" stroke-opacity=".8" stroke-width="1"/>
<circle cx="356" cy="40.1" r="3.7" fill="#4169e1" fill-opacity=".8" stroke="#4169e1" stroke-opacity=".8" stroke-width="1"/>
<circle cx="363" cy="44.3" r="3.7" fill="#4169e1" fill-opacity=".8" stroke="#4169e1" stroke-opacity=".8" stroke-width="1"/>
<circle cx="382" cy="35.8" r="3.7" fill="#4169e1" fill-opacity=".8" stroke="#4169e1" stroke-opacity=".8" stroke-width="1"/>
<circle cx="384" cy="36.8" r="3.7" fill="#4169e1" fill-opacity=".8" stroke="#4169e1" stroke-opacity=".8" stroke-width="1"/>
<circle cx="388.2" cy="40.3" r="3.7" fill="#4169e1" fill-opacity=".8" stroke="#4169e1" stroke-opacity=".8" stroke-width="1"/>
<circle cx="394.5" cy="33.7" r="3.7" fill="#4169e1" fill-opacity=".8" stroke="#4169e1" stroke-opacity=".8" stroke-width="1"/>
<circle cx="406" cy="41.7" r="3.7" fill="#4169e1" fill-opacity=".8" stroke="#4169e1" stroke-opacity=".8" stroke-width="1"/>
<circle cx="403.6" cy="46.7" r="3.7" fill="#4169e1" fill-opacity=".8" stroke="#4169e1" stroke-opacity=".8" stroke-width="1"/>
<circle cx="416.8" cy="40.1" r="3.7" fill="#4169e1" fill-opacity=".8" stroke="#4169e1" stroke-opacity=".8" stroke-width="1"/>
<circle cx="414.6" cy="45.3" r="3.7" fill="#4169e1" fill-opacity=".8" stroke="#4169e1" stroke-opacity=".8" stroke-width="1"/>
<circle cx="421" cy="52.3" r="3.7" fill="#4169e1" fill-opacity=".8" stroke="#4169e1" stroke-opacity=".8" stroke-width="1"/>
<circle cx="433.6" cy="50.3" r="3.7" fill="#4169e1" fill-opacity=".8" stroke="#4169e1" stroke-opacity=".8" stroke-width="1"/>
<circle cx="450.4" cy="62.3" r="3.7" fill="#4169e1" fill-opacity=".8" stroke="#4169e1" stroke-opacity=".8" stroke-width="1"/>
<circle cx="461" cy="61.3" r="3.7" fill="#4169e1" fill-opacity=".8" stroke="#4169e1" stroke-opacity=".8" stroke-width="1"/>
<circle cx="427.7" cy="100.7" r="3.7" fill="#4169e1" fill-opacity=".8" stroke="#4169e1" stroke-opacity=".8" stroke-width="1"/>
<circle cx="414.6" cy="101.3" r="3.7" fill="#4169e1" fill-opacity=".8" stroke="#4169e1" stroke-opacity=".8" stroke-width="1"/>
<circle cx="448" cy="100.7" r="3.7" fill="#4169e1" fill-opacity=".8" stroke="#4169e1" stroke-opacity=".8" stroke-width="1"/>
<circle cx="437" cy="98.3" r="3.7" fill="#4169e1" fill-opacity=".8" stroke="#4169e1" stroke-opacity=".8" stroke-width="1"/>
<circle cx="443.8" cy="97.3" r="3.7" fill="#4169e1" fill-opacity=".8" stroke="#4169e1" stroke-opacity=".8" stroke-width="1"/>
<circle cx="471.5" cy="90.3" r="3.7" fill="#4169e1" fill-opacity=".8" stroke="#4169e1" stroke-opacity=".8" stroke-width="1"/>
</g>
<circle cx="94.2" cy="316.2" r="9.8" fill="url(#gV)"/>
<g filter="url(#soft)">
<circle cx="105.7" cy="312.1" r="10.4" fill="url(#gE)"/>
<g clip-path="url(#clipE)">
<path d="M95 306.5 q1.6 -1.6 2.6 0 q0.6 2.6 0.2 5.4 q0.2 3.6 1.4 6 l-1.8 1.6 q-3.4 -5 -2.4 -13z" fill="#3f8f30"/>
<path d="M97.4 305.4 q2.6 -3.6 6.6 -3.8 q3.2 -0.2 6 0.6 q2.8 0.8 4 3 q-2.2 0.4 -3.4 1.6 q-1.6 1.4 -3.2 0.6 q-1.8 -0.8 -3 0.6 q-1.4 1.8 -3 1 q-2.2 -0.6 -4 -3.6z" fill="#93a857"/>
<path d="M100.6 303.6 q1.6 -1 3 -0.4 q-0.6 1.6 -2.6 1.6z" fill="#5f8c3a"/>
<path d="M104.5 302.4 q1.8 -0.6 3 0.4 q-0.8 1.2 -2.8 1z" fill="#e4e8da"/>
<path d="M108.6 303.6 q2 -0.2 3 1 q-1 1 -2.8 0.6z" fill="#cfd8b8"/>
<ellipse cx="110.4" cy="307.6" rx="1.7" ry="2.3" fill="#eef2f5" transform="rotate(-20 110.4 307.6)"/>
<ellipse cx="112.4" cy="312.6" rx="1.1" ry="2.6" fill="#e6ecf2"/>
<ellipse cx="101.2" cy="310.6" rx="1.6" ry="1.3" fill="#e9eef4"/>
<ellipse cx="105.6" cy="308.2" rx="1.3" ry="0.8" fill="#b9c6e2"/>
<ellipse cx="107.4" cy="311.8" rx="1.5" ry="0.7" fill="#aab9de" transform="rotate(15 107.4 311.8)"/>
<ellipse cx="103.4" cy="314.2" rx="1.2" ry="0.8" fill="#d5deee"/>
<ellipse cx="99.4" cy="314.8" rx="0.9" ry="1.2" fill="#c9d6ea"/>
<ellipse cx="104.4" cy="318.2" rx="2.3" ry="0.9" fill="#8fa3d6" transform="rotate(20 104.4 318.2)"/>
<ellipse cx="109.4" cy="317.4" rx="1.3" ry="0.9" fill="#dfe6f0"/>
<ellipse cx="108.4" cy="314.6" rx="0.8" ry="0.6" fill="#cdd7ec"/>
<ellipse cx="102" cy="307.4" rx="0.9" ry="0.6" fill="#dfe5ef"/>
<ellipse cx="113.6" cy="309.4" rx="0.8" ry="1.5" fill="#7da05a"/>
<ellipse cx="112" cy="317" rx="0.8" ry="1.2" fill="#5f8f4a"/>
</g>
<circle cx="105.7" cy="312.1" r="10.4" fill="url(#gEs)"/>
</g>
<circle cx="249.9" cy="191.4" r="9.4" fill="url(#gN)"/>
<circle cx="241.2" cy="188.6" r="10" fill="url(#gU)"/>
<circle cx="336.1" cy="112.4" r="6.8" fill="url(#gS)"/>
<g transform="translate(336.4 112.3) rotate(45.3)"><ellipse cx="0" cy="0" rx="16" ry="1.25" fill="#7d6a3c" stroke="#4f4022" stroke-width="0.7"/><path d="M-6.6 0.5H6.6" stroke="#3f321a" stroke-width="1.1"/><path d="M-15 0H-8M8 0H15" stroke="#a08a54" stroke-width="0.6"/></g>
<circle cx="397.6" cy="97" r="11.7" fill="url(#gJ)"/><circle cx="397.6" cy="97" r="11.7" fill="url(#gJs)"/>
<rect x="58.1" y="5.1" width="467.79999999999995" height="348.09999999999997" fill="none" stroke="#1a1a1a" stroke-width="1.6"/>
<path d="M104.9 353.2v-6M221.8 353.2v-6M338.7 353.2v-6M455.6 353.2v-6" stroke="#1a1a1a" stroke-width="1.4" fill="none"/>
<path d="M58.4 353.2v-3.2M69.7 353.2v-3.2M79 353.2v-3.2M86.8 353.2v-3.2M93.6 353.2v-3.2M99.6 353.2v-3.2M140.1 353.2v-3.2M160.7 353.2v-3.2M175.3 353.2v-3.2M186.6 353.2v-3.2M195.9 353.2v-3.2M203.7 353.2v-3.2M210.5 353.2v-3.2M216.5 353.2v-3.2M257 353.2v-3.2M277.6 353.2v-3.2M292.2 353.2v-3.2M303.5 353.2v-3.2M312.8 353.2v-3.2M320.6 353.2v-3.2M327.4 353.2v-3.2M333.4 353.2v-3.2M373.9 353.2v-3.2M394.5 353.2v-3.2M409.1 353.2v-3.2M420.4 353.2v-3.2M429.7 353.2v-3.2M437.5 353.2v-3.2M444.3 353.2v-3.2M450.3 353.2v-3.2M490.8 353.2v-3.2M511.4 353.2v-3.2M526 353.2v-3.2" stroke="#333" stroke-width="1.1" fill="none"/>
<path d="M58.1 312.4h6M58.1 214.6h6M58.1 169.1h6M58.1 107.4h6M58.1 9.6h6" stroke="#1a1a1a" stroke-width="1.4" fill="none"/>
<path d="M58.1 344.2h3.2M58.1 332.3h3.2M58.1 321.8h3.2M58.1 250.7h3.2M58.1 189h3.2M58.1 152.9h3.2M58.1 139.2h3.2M58.1 127.3h3.2M58.1 116.8h3.2M58.1 45.7h3.2" stroke="#333" stroke-width="1.1" fill="none"/>
<g font-family="'Liberation Sans', Arial, sans-serif" font-size="19.7" fill="#111" stroke="#111" stroke-width="0.25">
<text transform="translate(105.1 374.7) scale(1.0 1)" text-anchor="middle">1</text>
<text transform="translate(222 374.7) scale(1.0 1)" text-anchor="middle">10</text>
<text transform="translate(338.9 374.7) scale(1.0 1)" text-anchor="middle">100</text>
<text transform="translate(455.8 374.7) scale(1.0 1)" text-anchor="middle">1000</text>
<text transform="translate(526.2 374.7) scale(1.0 1)" text-anchor="middle">4000</text>
<text transform="translate(51.2 319.3) scale(1.0 1)" text-anchor="end">1</text>
<text transform="translate(51.2 221.5) scale(1.0 1)" text-anchor="end">3</text>
<text transform="translate(51.2 176) scale(1.0 1)" text-anchor="end">5</text>
<text transform="translate(51.2 114.3) scale(1.0 1)" text-anchor="end">10</text>
<text transform="translate(51.2 16.5) scale(1.0 1)" text-anchor="end">30</text>
</g>
<text transform="translate(244.4 396.6) scale(1.05 1)" font-family="'Liberation Sans', Arial, sans-serif" font-size="18.8" fill="#111" stroke="#111" stroke-width="0.25">Mass (M<tspan font-family="'DejaVu Sans', sans-serif" font-size="13.9" dy="3.7">⊕</tspan><tspan dy="-3.7">)</tspan></text>
<text transform="translate(19.7 233.3) rotate(-90) scale(0.992 1)" font-family="'Liberation Sans', Arial, sans-serif" font-size="20.2" fill="#111" stroke="#111" stroke-width="0.25">Radius (R<tspan font-family="'DejaVu Sans', sans-serif" font-size="13.6" dy="3.4">⊕</tspan><tspan dy="-3.4">)</tspan></text>
</svg>
</body></html>
